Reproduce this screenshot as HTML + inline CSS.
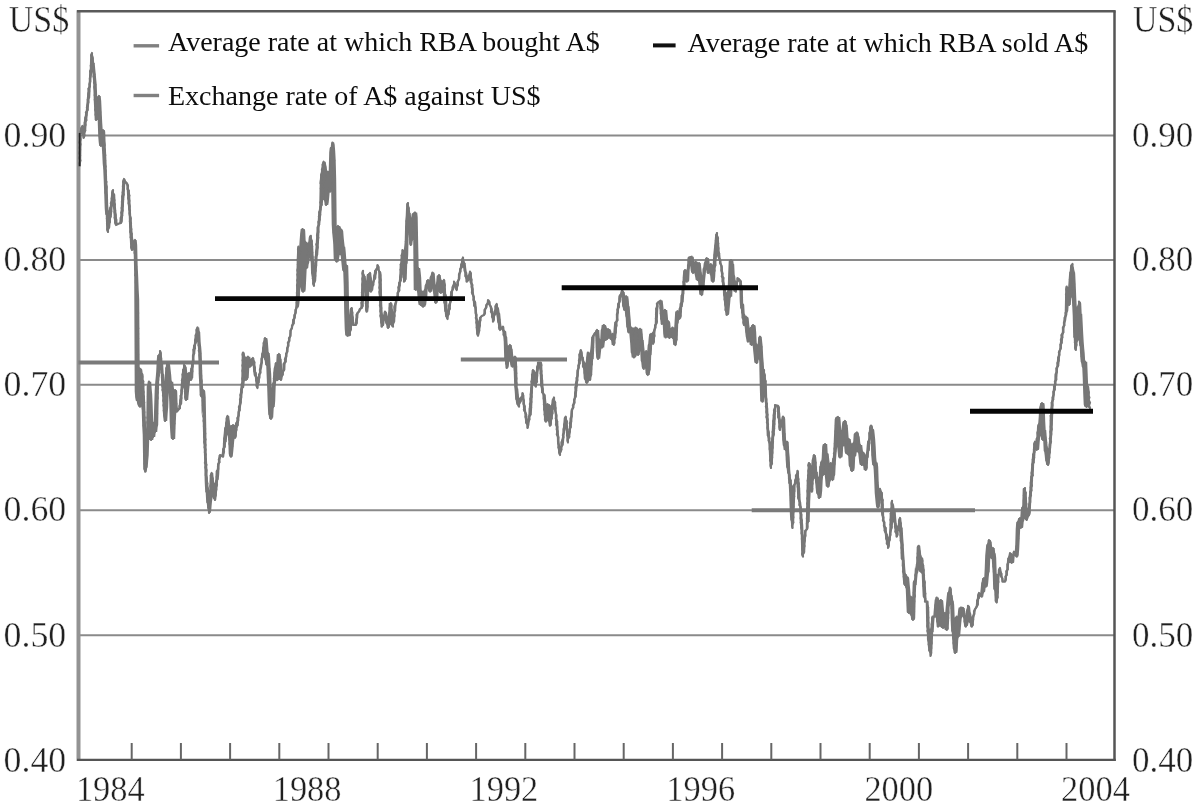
<!DOCTYPE html>
<html lang="en"><head><meta charset="utf-8"><title>Exchange rate of A$ against US$</title>
<style>
html,body{margin:0;padding:0;background:#fff;}
body{width:1200px;height:810px;overflow:hidden;font-family:"Liberation Serif",serif;}
svg{display:block;filter:blur(0.55px);font-family:"Liberation Serif",serif;}
.ax{font-size:34px;fill:#202020;stroke:#fff;stroke-width:0.4px;paint-order:fill stroke;}
.lg{font-size:28px;fill:#0c0c0c;}
</style></head><body>
<svg width="1200" height="810" viewBox="0 0 1200 810">
<rect width="1200" height="810" fill="#fff"/>

<g stroke="#8a8a8a" stroke-width="2.1">
<line x1="78.5" y1="135.5" x2="1114.5" y2="135.5"/>
<line x1="78.5" y1="260" x2="1114.5" y2="260"/>
<line x1="78.5" y1="384.7" x2="1114.5" y2="384.7"/>
<line x1="78.5" y1="510.3" x2="1114.5" y2="510.3"/>
<line x1="78.5" y1="635.3" x2="1114.5" y2="635.3"/>
</g>
<line x1="78.5" y1="10.2" x2="78.5" y2="761.0" stroke="#939393" stroke-width="4"/>
<line x1="77.0" y1="11.2" x2="1115.7" y2="11.2" stroke="#5a5a5a" stroke-width="2.4"/>
<line x1="1114.5" y1="11.2" x2="1114.5" y2="761.0" stroke="#555" stroke-width="2.5"/>
<line x1="77.0" y1="759.9" x2="1115.7" y2="759.9" stroke="#555" stroke-width="2.4"/>
<g stroke="#666" stroke-width="2">
<line x1="131.7" y1="743" x2="131.7" y2="759.5"/>
<line x1="180.9" y1="743" x2="180.9" y2="759.5"/>
<line x1="230.1" y1="743" x2="230.1" y2="759.5"/>
<line x1="279.3" y1="743" x2="279.3" y2="759.5"/>
<line x1="328.5" y1="743" x2="328.5" y2="759.5"/>
<line x1="377.7" y1="743" x2="377.7" y2="759.5"/>
<line x1="426.9" y1="743" x2="426.9" y2="759.5"/>
<line x1="476.1" y1="743" x2="476.1" y2="759.5"/>
<line x1="525.3" y1="743" x2="525.3" y2="759.5"/>
<line x1="574.5" y1="743" x2="574.5" y2="759.5"/>
<line x1="623.7" y1="743" x2="623.7" y2="759.5"/>
<line x1="672.9" y1="743" x2="672.9" y2="759.5"/>
<line x1="722.1" y1="743" x2="722.1" y2="759.5"/>
<line x1="771.3" y1="743" x2="771.3" y2="759.5"/>
<line x1="820.5" y1="743" x2="820.5" y2="759.5"/>
<line x1="869.7" y1="743" x2="869.7" y2="759.5"/>
<line x1="918.9" y1="743" x2="918.9" y2="759.5"/>
<line x1="968.1" y1="743" x2="968.1" y2="759.5"/>
<line x1="1017.3" y1="743" x2="1017.3" y2="759.5"/>
<line x1="1066.5" y1="743" x2="1066.5" y2="759.5"/>
</g>
<g stroke="#7a7a7a" stroke-width="4.0">
<line x1="78.5" y1="362.5" x2="219" y2="362.5"/>
<line x1="460.8" y1="359.6" x2="567" y2="359.6"/>
<line x1="751.7" y1="510.3" x2="975" y2="510.3"/>
</g>
<path d="M79.2,133.3 L79.7,132.1 L80.2,128.3 L80.7,127.4 L81.2,126.2 L81.7,126.0 L82.2,126.0 L82.7,126.0 L83.2,126.0 L83.7,122.6 L84.2,118.0 L84.7,116.8 L85.2,112.1 L85.7,111.3 L86.2,106.1 L86.7,99.5 L87.2,94.1 L87.7,88.3 L88.2,87.6 L88.7,82.9 L89.2,71.0 L89.7,70.0 L90.2,55.1 L90.7,53.8 L91.2,53.0 L91.7,53.0 L92.2,53.0 L92.7,53.0 L93.2,55.9 L93.7,57.9 L94.2,63.0 L94.7,63.0 L95.2,68.8 L95.7,73.5 L96.2,79.2 L96.7,84.3 L97.2,96.7 L97.7,96.0 L98.2,96.0 L98.7,96.0 L99.2,96.0 L99.7,96.0 L100.2,96.0 L100.7,96.0 L101.2,101.0 L101.7,111.8 L102.2,122.6 L102.7,130.0 L103.2,130.0 L103.7,130.0 L104.2,130.0 L104.7,130.0 L105.2,131.8 L105.7,144.9 L106.2,154.9 L106.7,166.5 L107.2,181.4 L107.7,186.8 L108.2,205.2 L108.7,211.2 L109.2,208.0 L109.7,207.1 L110.2,202.7 L110.7,198.3 L111.2,192.7 L111.7,190.0 L112.2,190.0 L112.7,190.0 L113.2,190.0 L113.7,190.0 L114.2,193.5 L114.7,194.1 L115.2,194.8 L115.7,203.8 L116.2,210.1 L116.7,215.0 L117.2,219.7 L117.7,223.6 L118.2,223.5 L118.7,223.4 L119.2,223.2 L119.7,217.8 L120.2,216.9 L120.7,207.9 L121.2,196.5 L121.7,192.0 L122.2,181.5 L122.7,179.8 L123.2,179.0 L123.7,179.0 L124.2,179.0 L124.7,179.0 L125.2,179.2 L125.7,180.5 L126.2,181.5 L126.7,182.1 L127.2,182.7 L127.7,183.1 L128.2,183.7 L128.7,185.1 L129.2,189.9 L129.7,190.5 L130.2,195.0 L130.7,205.7 L131.2,216.3 L131.7,218.0 L132.2,228.3 L132.7,233.7 L133.2,239.3 L133.7,240.4 L134.2,240.0 L134.7,240.0 L135.2,240.0 L135.7,240.0 L136.2,240.0 L136.7,240.0 L137.2,245.3 L137.7,266.2 L138.2,276.8 L138.7,289.9 L139.2,299.6 L139.7,368.0 L140.2,368.2 L140.7,368.6 L141.2,368.6 L141.7,369.2 L142.2,369.6 L142.7,373.5 L143.2,374.0 L143.7,380.5 L144.2,381.1 L144.7,392.2 L145.2,402.5 L145.7,417.6 L146.2,429.5 L146.7,386.3 L147.2,385.6 L147.7,381.7 L148.2,381.7 L148.7,381.7 L149.2,381.7 L149.7,381.7 L150.2,381.7 L150.7,381.7 L151.2,381.7 L151.7,389.3 L152.2,394.6 L152.7,405.7 L153.2,421.9 L153.7,421.5 L154.2,405.3 L154.7,390.0 L155.2,382.4 L155.7,377.5 L156.2,371.4 L156.7,360.7 L157.2,355.0 L157.7,355.3 L158.2,354.4 L158.7,354.4 L159.2,351.0 L159.7,351.0 L160.2,351.0 L160.7,351.0 L161.2,351.3 L161.7,352.8 L162.2,358.6 L162.7,364.1 L163.2,364.1 L163.7,373.8 L164.2,374.6 L164.7,381.5 L165.2,367.8 L165.7,366.9 L166.2,363.0 L166.7,363.0 L167.2,363.0 L167.7,363.0 L168.2,363.0 L168.7,363.0 L169.2,363.0 L169.7,363.0 L170.2,365.7 L170.7,370.6 L171.2,375.1 L171.7,381.7 L172.2,381.7 L172.7,381.7 L173.2,381.7 L173.7,386.6 L174.2,390.0 L174.7,390.0 L175.2,390.0 L175.7,390.0 L176.2,390.0 L176.7,390.0 L177.2,391.5 L177.7,408.1 L178.2,408.8 L178.7,405.5 L179.2,400.7 L179.7,395.6 L180.2,394.4 L180.7,385.0 L181.2,379.8 L181.7,374.3 L182.2,369.8 L182.7,369.2 L183.2,365.0 L183.7,365.0 L184.2,365.0 L184.7,365.0 L185.2,365.0 L185.7,365.0 L186.2,366.8 L186.7,366.8 L187.2,372.5 L187.7,373.0 L188.2,373.0 L188.7,373.0 L189.2,373.0 L189.7,373.0 L190.2,368.2 L190.7,368.2 L191.2,363.2 L191.7,362.0 L192.2,355.0 L192.7,349.3 L193.2,344.8 L193.7,345.0 L194.2,340.1 L194.7,335.1 L195.2,334.4 L195.7,329.5 L196.2,328.0 L196.7,327.5 L197.2,327.5 L197.7,327.5 L198.2,327.5 L198.7,327.5 L199.2,327.5 L199.7,331.5 L200.2,332.1 L200.7,342.7 L201.2,347.0 L201.7,353.1 L202.2,370.9 L202.7,381.2 L203.2,390.0 L203.7,390.0 L204.2,390.3 L204.7,390.0 L205.2,391.3 L205.7,397.3 L206.2,423.7 L206.7,454.2 L207.2,464.4 L207.7,477.5 L208.2,482.9 L208.7,488.1 L209.2,491.0 L209.7,475.4 L210.2,474.2 L210.7,473.0 L211.2,473.0 L211.7,473.0 L212.2,473.0 L212.7,473.0 L213.2,473.0 L213.7,478.4 L214.2,482.8 L214.7,483.2 L215.2,481.0 L215.7,471.0 L216.2,470.0 L216.7,470.0 L217.2,464.1 L217.7,463.3 L218.2,458.8 L218.7,455.0 L219.2,455.0 L219.7,455.0 L220.2,455.0 L220.7,455.0 L221.2,455.1 L221.7,454.6 L222.2,449.1 L222.7,448.2 L223.2,437.8 L223.7,433.5 L224.2,427.5 L224.7,427.5 L225.2,423.0 L225.7,418.2 L226.2,416.7 L226.7,416.0 L227.2,416.0 L227.7,416.0 L228.2,416.0 L228.7,416.0 L229.2,416.0 L229.7,420.5 L230.2,425.3 L230.7,425.3 L231.2,425.0 L231.7,425.0 L232.2,425.0 L232.7,425.0 L233.2,425.0 L233.7,425.0 L234.2,425.0 L234.7,425.0 L235.2,422.6 L235.7,422.6 L236.2,421.7 L236.7,417.5 L237.2,416.4 L237.7,411.8 L238.2,406.3 L238.7,405.4 L239.2,399.3 L239.7,394.4 L240.2,389.6 L240.7,384.2 L241.2,383.1 L241.7,353.8 L242.2,352.5 L242.7,352.5 L243.2,352.5 L243.7,352.5 L244.2,352.5 L244.7,352.5 L245.2,356.6 L245.7,356.6 L246.2,356.7 L246.7,356.7 L247.2,356.7 L247.7,356.7 L248.2,356.7 L248.7,356.7 L249.2,356.7 L249.7,356.7 L250.2,356.7 L250.7,359.0 L251.2,358.4 L251.7,358.0 L252.2,358.0 L252.7,358.0 L253.2,358.0 L253.7,358.0 L254.2,358.0 L254.7,361.3 L255.2,361.9 L255.7,367.1 L256.2,372.2 L256.7,372.9 L257.2,376.6 L257.7,377.5 L258.2,374.3 L258.7,373.7 L259.2,369.3 L259.7,364.9 L260.2,363.7 L260.7,358.4 L261.2,353.9 L261.7,353.0 L262.2,348.1 L262.7,342.8 L263.2,341.9 L263.7,338.0 L264.2,338.0 L264.7,338.0 L265.2,338.0 L265.7,338.0 L266.2,338.0 L266.7,338.0 L267.2,338.0 L267.7,340.1 L268.2,346.2 L268.7,353.0 L269.2,353.0 L269.7,353.0 L270.2,358.1 L270.7,368.0 L271.2,374.1 L271.7,387.9 L272.2,382.7 L272.7,382.7 L273.2,372.8 L273.7,368.0 L274.2,366.7 L274.7,363.0 L275.2,363.0 L275.7,363.0 L276.2,363.0 L276.7,354.5 L277.2,354.0 L277.7,354.0 L278.2,354.0 L278.7,354.0 L279.2,354.0 L279.7,354.0 L280.2,354.0 L280.7,354.0 L281.2,358.4 L281.7,359.6 L282.2,371.1 L282.7,363.8 L283.2,363.3 L283.7,362.7 L284.2,358.7 L284.7,357.5 L285.2,353.6 L285.7,352.7 L286.2,348.1 L286.7,347.1 L287.2,342.3 L287.7,341.7 L288.2,337.9 L288.7,337.0 L289.2,336.3 L289.7,330.2 L290.2,329.3 L290.7,328.4 L291.2,325.5 L291.7,324.6 L292.2,320.0 L292.7,319.2 L293.2,318.3 L293.7,314.6 L294.2,313.4 L294.7,309.6 L295.2,308.1 L295.7,302.1 L296.2,284.6 L296.7,259.5 L297.2,248.0 L297.7,246.7 L298.2,246.7 L298.7,246.7 L299.2,246.7 L299.7,239.3 L300.2,232.9 L300.7,229.0 L301.2,229.0 L301.7,229.0 L302.2,229.0 L302.7,229.0 L303.2,229.0 L303.7,229.0 L304.2,229.0 L304.7,229.0 L305.2,230.8 L305.7,241.7 L306.2,241.7 L306.7,241.7 L307.2,241.7 L307.7,243.1 L308.2,242.4 L308.7,237.8 L309.2,235.8 L309.7,235.8 L310.2,235.8 L310.7,235.8 L311.2,235.8 L311.7,235.8 L312.2,239.6 L312.7,240.8 L313.2,246.5 L313.7,257.0 L314.2,265.2 L314.7,256.9 L315.2,251.3 L315.7,243.8 L316.2,234.6 L316.7,227.0 L317.2,226.1 L317.7,221.2 L318.2,212.1 L318.7,210.9 L319.2,206.9 L319.7,181.8 L320.2,174.7 L320.7,173.3 L321.2,169.0 L321.7,164.4 L322.2,162.9 L322.7,161.7 L323.2,161.7 L323.7,161.7 L324.2,161.7 L324.7,161.7 L325.2,161.7 L325.7,161.7 L326.2,165.0 L326.7,166.8 L327.2,171.7 L327.7,171.7 L328.2,171.7 L328.7,171.7 L329.2,152.3 L329.7,148.0 L330.2,147.0 L330.7,147.0 L331.2,142.5 L331.7,142.5 L332.2,142.5 L332.7,142.5 L333.2,142.5 L333.7,142.5 L334.2,142.5 L334.7,144.9 L335.2,151.0 L335.7,160.3 L336.2,179.8 L336.7,226.0 L337.2,226.0 L337.7,226.0 L338.2,226.0 L338.7,226.0 L339.2,226.0 L339.7,226.0 L340.2,226.0 L340.7,227.2 L341.2,228.3 L341.7,228.9 L342.2,229.3 L342.7,229.8 L343.2,231.2 L343.7,237.8 L344.2,242.6 L344.7,246.7 L345.2,246.7 L345.7,251.4 L346.2,257.9 L346.7,265.0 L347.2,265.0 L347.7,265.0 L348.2,265.8 L348.7,282.6 L349.2,315.3 L349.7,309.5 L350.2,308.0 L350.7,308.0 L351.2,308.0 L351.7,308.0 L352.2,308.0 L352.7,308.0 L353.2,311.8 L353.7,317.1 L354.2,322.3 L354.7,325.0 L355.2,320.2 L355.7,314.5 L356.2,313.5 L356.7,312.8 L357.2,312.3 L357.7,311.7 L358.2,310.9 L358.7,309.4 L359.2,308.8 L359.7,308.5 L360.2,308.3 L360.7,302.3 L361.2,284.9 L361.7,271.8 L362.2,270.8 L362.7,270.8 L363.2,270.8 L363.7,270.8 L364.2,274.1 L364.7,275.2 L365.2,276.1 L365.7,276.1 L366.2,281.0 L366.7,274.8 L367.2,274.1 L367.7,274.1 L368.2,273.5 L368.7,273.0 L369.2,273.0 L369.7,273.0 L370.2,273.0 L370.7,273.0 L371.2,273.0 L371.7,278.1 L372.2,281.9 L372.7,280.7 L373.2,275.2 L373.7,274.0 L374.2,270.1 L374.7,270.1 L375.2,269.4 L375.7,268.8 L376.2,267.9 L376.7,265.0 L377.2,265.0 L377.7,265.0 L378.2,265.0 L378.7,265.2 L379.2,266.2 L379.7,270.3 L380.2,271.2 L380.7,271.2 L381.2,272.1 L381.7,275.0 L382.2,302.7 L382.7,313.6 L383.2,315.6 L383.7,311.7 L384.2,311.7 L384.7,311.7 L385.2,311.7 L385.7,311.7 L386.2,311.7 L386.7,311.7 L387.2,313.2 L387.7,316.5 L388.2,312.0 L388.7,303.0 L389.2,303.0 L389.7,303.0 L390.2,303.0 L390.7,303.0 L391.2,303.0 L391.7,303.0 L392.2,303.0 L392.7,309.5 L393.2,312.3 L393.7,305.8 L394.2,304.3 L394.7,303.0 L395.2,299.5 L395.7,298.6 L396.2,297.9 L396.7,292.8 L397.2,291.9 L397.7,286.9 L398.2,282.8 L398.7,282.0 L399.2,276.9 L399.7,264.4 L400.2,263.8 L400.7,255.3 L401.2,254.0 L401.7,250.0 L402.2,250.0 L402.7,250.0 L403.2,250.0 L403.7,250.0 L404.2,246.9 L404.7,241.0 L405.2,221.0 L405.7,215.7 L406.2,203.8 L406.7,203.0 L407.2,203.0 L407.7,203.0 L408.2,203.0 L408.7,203.0 L409.2,206.6 L409.7,208.0 L410.2,212.9 L410.7,212.9 L411.2,218.1 L411.7,214.0 L412.2,213.3 L412.7,213.3 L413.2,212.7 L413.7,212.5 L414.2,212.5 L414.7,212.5 L415.2,212.5 L415.7,212.5 L416.2,212.5 L416.7,212.5 L417.2,212.5 L417.7,217.2 L418.2,244.5 L418.7,268.0 L419.2,268.0 L419.7,268.0 L420.2,268.0 L420.7,272.5 L421.2,277.7 L421.7,289.6 L422.2,291.7 L422.7,291.7 L423.2,291.7 L423.7,289.9 L424.2,288.9 L424.7,285.2 L425.2,284.2 L425.7,283.2 L426.2,280.0 L426.7,280.0 L427.2,280.0 L427.7,280.0 L428.2,280.0 L428.7,280.0 L429.2,280.0 L429.7,276.9 L430.2,276.2 L430.7,275.3 L431.2,272.5 L431.7,272.5 L432.2,272.5 L432.7,272.5 L433.2,272.5 L433.7,272.5 L434.2,272.5 L434.7,273.8 L435.2,279.4 L435.7,284.9 L436.2,282.3 L436.7,275.7 L437.2,275.7 L437.7,275.0 L438.2,275.0 L438.7,275.0 L439.2,275.0 L439.7,275.0 L440.2,275.0 L440.7,275.0 L441.2,279.0 L441.7,280.0 L442.2,280.5 L442.7,280.0 L443.2,280.0 L443.7,280.0 L444.2,280.0 L444.7,280.0 L445.2,280.0 L445.7,284.4 L446.2,294.4 L446.7,295.1 L447.2,300.4 L447.7,310.3 L448.2,305.2 L448.7,303.7 L449.2,302.3 L449.7,297.2 L450.2,292.0 L450.7,291.3 L451.2,290.4 L451.7,287.1 L452.2,285.9 L452.7,285.0 L453.2,281.7 L453.7,281.7 L454.2,281.7 L454.7,281.7 L455.2,281.9 L455.7,282.9 L456.2,284.2 L456.7,281.4 L457.2,280.5 L457.7,279.6 L458.2,273.9 L458.7,273.0 L459.2,268.9 L459.7,268.3 L460.2,264.6 L460.7,263.6 L461.2,259.8 L461.7,258.3 L462.2,257.5 L462.7,257.5 L463.2,257.5 L463.7,257.5 L464.2,261.0 L464.7,262.0 L465.2,263.1 L465.7,262.9 L466.2,267.9 L466.7,271.5 L467.2,272.6 L467.7,275.7 L468.2,275.1 L468.7,273.4 L469.2,271.7 L469.7,271.7 L470.2,271.7 L470.7,271.7 L471.2,271.9 L471.7,273.1 L472.2,278.7 L472.7,283.6 L473.2,284.5 L473.7,289.4 L474.2,295.2 L474.7,296.4 L475.2,300.9 L475.7,301.5 L476.2,302.2 L476.7,307.5 L477.2,313.8 L477.7,319.0 L478.2,319.9 L478.7,321.6 L479.2,317.8 L479.7,317.2 L480.2,316.6 L480.7,316.1 L481.2,315.8 L481.7,315.5 L482.2,315.3 L482.7,315.1 L483.2,314.5 L483.7,309.6 L484.2,308.9 L484.7,308.3 L485.2,306.1 L485.7,304.5 L486.2,303.8 L486.7,303.2 L487.2,300.0 L487.7,300.0 L488.2,300.0 L488.7,300.0 L489.2,300.2 L489.7,300.9 L490.2,301.6 L490.7,304.7 L491.2,305.6 L491.7,306.3 L492.2,307.4 L492.7,309.1 L493.2,313.3 L493.7,311.3 L494.2,310.4 L494.7,305.8 L495.2,304.9 L495.7,304.0 L496.2,304.0 L496.7,304.0 L497.2,304.0 L497.7,304.0 L498.2,307.4 L498.7,307.2 L499.2,309.2 L499.7,313.0 L500.2,313.6 L500.7,319.1 L501.2,324.3 L501.7,326.9 L502.2,326.7 L502.7,326.7 L503.2,326.7 L503.7,326.7 L504.2,326.7 L504.7,330.8 L505.2,331.1 L505.7,331.1 L506.2,331.6 L506.7,336.4 L507.2,337.0 L507.7,345.7 L508.2,345.4 L508.7,345.0 L509.2,345.0 L509.7,345.0 L510.2,345.0 L510.7,345.0 L511.2,345.0 L511.7,345.0 L512.2,348.4 L512.7,349.6 L513.2,355.6 L513.7,356.7 L514.2,356.7 L514.7,356.7 L515.2,356.7 L515.7,356.7 L516.2,356.7 L516.7,356.7 L517.2,366.8 L517.7,388.6 L518.2,388.6 L518.7,393.7 L519.2,397.9 L519.7,397.9 L520.2,397.4 L520.7,397.1 L521.2,396.6 L521.7,393.0 L522.2,393.0 L522.7,393.0 L523.2,393.0 L523.7,393.3 L524.2,395.1 L524.7,400.1 L525.2,404.9 L525.7,406.2 L526.2,412.0 L526.7,413.2 L527.2,414.5 L527.7,419.5 L528.2,416.2 L528.7,408.7 L529.2,403.7 L529.7,394.3 L530.2,388.6 L530.7,381.0 L531.2,374.8 L531.7,370.0 L532.2,370.0 L532.7,370.0 L533.2,370.0 L533.7,370.0 L534.2,370.2 L534.7,370.9 L535.2,371.7 L535.7,372.3 L536.2,367.1 L536.7,365.8 L537.2,362.5 L537.7,362.5 L538.2,362.5 L538.7,362.5 L539.2,362.5 L539.7,362.5 L540.2,362.5 L540.7,362.5 L541.2,362.5 L541.7,362.5 L542.2,363.8 L542.7,375.3 L543.2,380.8 L543.7,388.7 L544.2,393.4 L544.7,394.0 L545.2,394.6 L545.7,394.6 L546.2,400.8 L546.7,404.0 L547.2,404.0 L547.7,404.0 L548.2,404.0 L548.7,404.0 L549.2,404.0 L549.7,404.0 L550.2,405.2 L550.7,405.2 L551.2,404.3 L551.7,399.6 L552.2,399.6 L552.7,398.2 L553.2,397.5 L553.7,397.5 L554.2,397.5 L554.7,397.5 L555.2,400.9 L555.7,401.6 L556.2,402.3 L556.7,412.0 L557.2,414.0 L557.7,420.2 L558.2,421.4 L558.7,431.1 L559.2,436.6 L559.7,444.2 L560.2,446.7 L560.7,441.8 L561.2,440.5 L561.7,439.2 L562.2,434.3 L562.7,429.0 L563.2,424.5 L563.7,418.2 L564.2,416.7 L564.7,416.7 L565.2,416.7 L565.7,416.7 L566.2,416.7 L566.7,416.7 L567.2,420.3 L567.7,420.9 L568.2,431.2 L568.7,428.9 L569.2,422.7 L569.7,418.1 L570.2,416.9 L570.7,410.9 L571.2,409.3 L571.7,408.4 L572.2,404.9 L572.7,404.0 L573.2,399.4 L573.7,398.5 L574.2,392.9 L574.7,386.9 L575.2,382.8 L575.7,377.7 L576.2,376.5 L576.7,370.1 L577.2,368.7 L577.7,364.9 L578.2,359.7 L578.7,354.0 L579.2,352.8 L579.7,350.0 L580.2,350.0 L580.7,350.0 L581.2,350.0 L581.7,350.0 L582.2,351.1 L582.7,352.9 L583.2,357.1 L583.7,356.9 L584.2,360.4 L584.7,361.5 L585.2,362.7 L585.7,362.2 L586.2,357.0 L586.7,352.5 L587.2,352.5 L587.7,352.5 L588.2,352.5 L588.7,352.5 L589.2,352.5 L589.7,352.5 L590.2,350.3 L590.7,344.7 L591.2,336.7 L591.7,337.0 L592.2,336.0 L592.7,335.0 L593.2,334.4 L593.7,333.1 L594.2,332.3 L594.7,332.3 L595.2,331.4 L595.7,330.0 L596.2,330.0 L596.7,330.0 L597.2,330.0 L597.7,330.0 L598.2,330.0 L598.7,330.0 L599.2,330.0 L599.7,337.7 L600.2,339.7 L600.7,330.0 L601.2,329.0 L601.7,325.0 L602.2,325.0 L602.7,325.0 L603.2,325.0 L603.7,325.0 L604.2,325.0 L604.7,325.0 L605.2,325.0 L605.7,325.0 L606.2,325.7 L606.7,327.2 L607.2,329.0 L607.7,329.0 L608.2,329.0 L608.7,329.0 L609.2,329.0 L609.7,329.0 L610.2,329.0 L610.7,330.0 L611.2,331.0 L611.7,333.8 L612.2,333.8 L612.7,333.8 L613.2,333.8 L613.7,327.7 L614.2,322.4 L614.7,321.8 L615.2,321.8 L615.7,321.2 L616.2,313.5 L616.7,309.1 L617.2,303.9 L617.7,303.1 L618.2,302.2 L618.7,295.9 L619.2,295.3 L619.7,294.5 L620.2,293.8 L620.7,291.6 L621.2,290.6 L621.7,290.6 L622.2,290.6 L622.7,290.6 L623.2,290.6 L623.7,290.6 L624.2,291.9 L624.7,291.9 L625.2,296.2 L625.7,296.2 L626.2,296.2 L626.7,296.2 L627.2,296.2 L627.7,296.2 L628.2,296.2 L628.7,299.6 L629.2,306.3 L629.7,306.3 L630.2,314.2 L630.7,319.6 L631.2,327.5 L631.7,327.5 L632.2,327.5 L632.7,327.5 L633.2,327.5 L633.7,327.5 L634.2,327.5 L634.7,327.5 L635.2,327.5 L635.7,327.5 L636.2,327.5 L636.7,327.5 L637.2,327.5 L637.7,327.5 L638.2,328.7 L638.7,328.8 L639.2,328.8 L639.7,328.8 L640.2,328.8 L640.7,328.8 L641.2,328.8 L641.7,328.8 L642.2,328.8 L642.7,333.9 L643.2,339.9 L643.7,339.9 L644.2,346.6 L644.7,351.2 L645.2,351.2 L645.7,351.2 L646.2,351.2 L646.7,351.2 L647.2,351.2 L647.7,345.1 L648.2,343.8 L648.7,337.7 L649.2,333.8 L649.7,333.8 L650.2,333.8 L650.7,333.8 L651.2,333.8 L651.7,333.8 L652.2,332.0 L652.7,332.0 L653.2,330.5 L653.7,329.0 L654.2,325.1 L654.7,324.4 L655.2,308.7 L655.7,307.7 L656.2,303.3 L656.7,302.7 L657.2,302.3 L657.7,301.8 L658.2,301.5 L658.7,301.2 L659.2,300.9 L659.7,300.6 L660.2,300.6 L660.7,300.6 L661.2,300.6 L661.7,300.6 L662.2,300.6 L662.7,300.6 L663.2,305.2 L663.7,310.0 L664.2,310.0 L664.7,310.0 L665.2,310.0 L665.7,310.0 L666.2,310.0 L666.7,310.0 L667.2,310.0 L667.7,314.9 L668.2,321.2 L668.7,321.2 L669.2,321.2 L669.7,321.2 L670.2,322.7 L670.7,328.3 L671.2,327.5 L671.7,327.5 L672.2,327.5 L672.7,327.5 L673.2,327.5 L673.7,327.5 L674.2,327.5 L674.7,319.4 L675.2,311.8 L675.7,311.2 L676.2,311.2 L676.7,311.2 L677.2,311.2 L677.7,311.2 L678.2,311.2 L678.7,308.4 L679.2,307.4 L679.7,303.2 L680.2,303.2 L680.7,295.2 L681.2,294.4 L681.7,288.7 L682.2,289.0 L682.7,277.0 L683.2,271.0 L683.7,270.0 L684.2,270.0 L684.7,270.0 L685.2,270.0 L685.7,270.0 L686.2,270.7 L686.7,269.5 L687.2,265.2 L687.7,257.4 L688.2,257.3 L688.7,257.0 L689.2,256.8 L689.7,256.8 L690.2,256.7 L690.7,256.7 L691.2,256.7 L691.7,256.7 L692.2,256.7 L692.7,256.7 L693.2,256.7 L693.7,256.7 L694.2,261.1 L694.7,261.7 L695.2,261.7 L695.7,261.7 L696.2,261.7 L696.7,261.7 L697.2,261.7 L697.7,261.7 L698.2,263.0 L698.7,263.0 L699.2,263.0 L699.7,263.0 L700.2,263.0 L700.7,263.0 L701.2,267.4 L701.7,272.2 L702.2,275.9 L702.7,268.6 L703.2,267.7 L703.7,263.4 L704.2,262.3 L704.7,261.1 L705.2,258.0 L705.7,258.0 L706.2,258.0 L706.7,258.0 L707.2,258.0 L707.7,258.0 L708.2,258.0 L708.7,258.0 L709.2,259.0 L709.7,264.0 L710.2,264.0 L710.7,264.0 L711.2,264.0 L711.7,264.0 L712.2,264.0 L712.7,265.0 L713.2,254.9 L713.7,250.2 L714.2,245.2 L714.7,240.0 L715.2,234.0 L715.7,234.0 L716.2,233.0 L716.7,233.0 L717.2,233.0 L717.7,233.0 L718.2,236.2 L718.7,237.4 L719.2,243.2 L719.7,252.3 L720.2,253.2 L720.7,259.1 L721.2,260.0 L721.7,264.0 L722.2,265.0 L722.7,266.4 L723.2,272.4 L723.7,277.2 L724.2,277.7 L724.7,283.9 L725.2,288.0 L725.7,288.0 L726.2,292.5 L726.7,291.7 L727.2,291.7 L727.7,288.3 L728.2,272.8 L728.7,261.3 L729.2,260.0 L729.7,260.0 L730.2,260.0 L730.7,260.0 L731.2,260.0 L731.7,260.0 L732.2,260.0 L732.7,260.0 L733.2,260.0 L733.7,263.9 L734.2,264.3 L734.7,275.0 L735.2,276.3 L735.7,281.1 L736.2,281.8 L736.7,278.0 L737.2,278.0 L737.7,278.0 L738.2,278.0 L738.7,278.2 L739.2,278.5 L739.7,278.5 L740.2,278.9 L740.7,280.0 L741.2,280.6 L741.7,280.6 L742.2,285.8 L742.7,286.6 L743.2,303.7 L743.7,303.7 L744.2,304.8 L744.7,313.7 L745.2,314.6 L745.7,316.7 L746.2,316.7 L746.7,316.7 L747.2,316.7 L747.7,316.7 L748.2,317.2 L748.7,318.6 L749.2,324.3 L749.7,328.0 L750.2,328.0 L750.7,328.0 L751.2,325.0 L751.7,325.0 L752.2,325.0 L752.7,325.0 L753.2,325.0 L753.7,325.0 L754.2,325.0 L754.7,325.0 L755.2,325.0 L755.7,326.5 L756.2,332.6 L756.7,342.7 L757.2,344.2 L757.7,344.2 L758.2,337.5 L758.7,336.7 L759.2,336.7 L759.7,336.7 L760.2,336.7 L760.7,336.7 L761.2,336.7 L761.7,336.7 L762.2,341.9 L762.7,346.4 L763.2,356.7 L763.7,362.8 L764.2,370.0 L764.7,370.0 L765.2,373.3 L765.7,375.0 L766.2,380.5 L766.7,380.3 L767.2,397.7 L767.7,403.2 L768.2,408.7 L768.7,419.1 L769.2,430.3 L769.7,432.1 L770.2,437.7 L770.7,442.4 L771.2,439.0 L771.7,431.4 L772.2,421.2 L772.7,415.0 L773.2,410.0 L773.7,408.8 L774.2,405.0 L774.7,405.0 L775.2,405.0 L775.7,405.0 L776.2,405.1 L776.7,405.2 L777.2,405.3 L777.7,405.5 L778.2,405.6 L778.7,405.5 L779.2,405.7 L779.7,407.2 L780.2,413.6 L780.7,419.6 L781.2,420.1 L781.7,416.7 L782.2,416.7 L782.7,416.7 L783.2,416.7 L783.7,416.7 L784.2,416.7 L784.7,416.7 L785.2,419.0 L785.7,433.1 L786.2,441.5 L786.7,441.7 L787.2,441.7 L787.7,441.7 L788.2,441.7 L788.7,441.7 L789.2,452.2 L789.7,457.4 L790.2,469.5 L790.7,475.2 L791.2,479.6 L791.7,480.2 L792.2,485.8 L792.7,485.6 L793.2,484.9 L793.7,484.3 L794.2,480.4 L794.7,479.5 L795.2,475.3 L795.7,474.4 L796.2,473.5 L796.7,470.8 L797.2,470.8 L797.7,470.8 L798.2,470.8 L798.7,471.0 L799.2,478.4 L799.7,483.1 L800.2,488.8 L800.7,501.2 L801.2,502.4 L801.7,507.0 L802.2,514.0 L802.7,520.1 L803.2,525.0 L803.7,537.1 L804.2,530.9 L804.7,530.4 L805.2,529.9 L805.7,529.3 L806.2,503.6 L806.7,480.8 L807.2,475.2 L807.7,463.8 L808.2,463.0 L808.7,463.0 L809.2,463.0 L809.7,463.0 L810.2,463.0 L810.7,463.0 L811.2,465.7 L811.7,459.7 L812.2,458.2 L812.7,455.0 L813.2,455.0 L813.7,455.0 L814.2,455.0 L814.7,455.0 L815.2,455.0 L815.7,455.0 L816.2,457.5 L816.7,462.7 L817.2,471.9 L817.7,471.9 L818.2,476.7 L818.7,476.6 L819.2,466.7 L819.7,465.7 L820.2,461.7 L820.7,461.7 L821.2,461.7 L821.7,457.4 L822.2,446.6 L822.7,444.5 L823.2,444.0 L823.7,444.0 L824.2,444.0 L824.7,444.0 L825.2,444.0 L825.7,444.0 L826.2,444.0 L826.7,444.0 L827.2,444.0 L827.7,453.3 L828.2,453.3 L828.7,454.1 L829.2,459.3 L829.7,463.0 L830.2,463.0 L830.7,463.0 L831.2,463.0 L831.7,463.0 L832.2,458.3 L832.7,458.3 L833.2,452.8 L833.7,442.3 L834.2,430.8 L834.7,419.3 L835.2,417.9 L835.7,417.6 L836.2,417.1 L836.7,417.0 L837.2,417.0 L837.7,417.0 L838.2,417.0 L838.7,417.0 L839.2,417.0 L839.7,417.0 L840.2,417.0 L840.7,421.6 L841.2,431.0 L841.7,427.3 L842.2,422.7 L842.7,421.5 L843.2,421.0 L843.7,421.0 L844.2,421.0 L844.7,421.0 L845.2,421.0 L845.7,421.0 L846.2,421.0 L846.7,421.0 L847.2,424.8 L847.7,424.8 L848.2,431.8 L848.7,439.0 L849.2,439.0 L849.7,439.0 L850.2,439.0 L850.7,439.0 L851.2,442.6 L851.7,443.3 L852.2,444.0 L852.7,442.4 L853.2,441.5 L853.7,434.1 L854.2,433.4 L854.7,432.7 L855.2,432.5 L855.7,432.5 L856.2,432.5 L856.7,432.5 L857.2,432.5 L857.7,432.5 L858.2,432.5 L858.7,432.5 L859.2,436.0 L859.7,436.7 L860.2,442.2 L860.7,445.0 L861.2,445.0 L861.7,445.0 L862.2,445.0 L862.7,449.4 L863.2,452.5 L863.7,452.5 L864.2,452.5 L864.7,452.5 L865.2,454.8 L865.7,453.8 L866.2,451.8 L866.7,445.4 L867.2,440.8 L867.7,441.0 L868.2,439.3 L868.7,432.5 L869.2,427.8 L869.7,425.6 L870.2,425.6 L870.7,425.6 L871.2,425.6 L871.7,425.6 L872.2,425.6 L872.7,425.6 L873.2,429.0 L873.7,429.0 L874.2,429.9 L874.7,434.5 L875.2,439.4 L875.7,446.9 L876.2,457.2 L876.7,462.5 L877.2,462.5 L877.7,462.5 L878.2,466.9 L878.7,481.8 L879.2,488.8 L879.7,488.8 L880.2,488.8 L880.7,488.8 L881.2,489.3 L881.7,491.3 L882.2,492.1 L882.7,492.8 L883.2,498.8 L883.7,499.7 L884.2,516.6 L884.7,521.4 L885.2,522.0 L885.7,526.7 L886.2,527.3 L886.7,528.0 L887.2,533.4 L887.7,534.5 L888.2,537.8 L888.7,536.6 L889.2,532.3 L889.7,513.6 L890.2,512.8 L890.7,502.1 L891.2,500.8 L891.7,500.8 L892.2,500.8 L892.7,500.8 L893.2,503.4 L893.7,504.6 L894.2,505.8 L894.7,510.5 L895.2,510.9 L895.7,510.9 L896.2,518.3 L896.7,523.7 L897.2,526.5 L897.7,525.4 L898.2,520.3 L898.7,518.8 L899.2,518.0 L899.7,518.0 L900.2,518.0 L900.7,518.0 L901.2,518.0 L901.7,523.0 L902.2,527.8 L902.7,527.8 L903.2,538.0 L903.7,544.0 L904.2,554.3 L904.7,560.2 L905.2,567.8 L905.7,573.2 L906.2,574.1 L906.7,573.9 L907.2,576.7 L907.7,576.7 L908.2,576.7 L908.7,576.7 L909.2,578.6 L909.7,584.6 L910.2,589.5 L910.7,596.7 L911.2,596.7 L911.7,596.7 L912.2,596.7 L912.7,582.6 L913.2,580.8 L913.7,580.8 L914.2,579.0 L914.7,569.9 L915.2,564.9 L915.7,569.0 L916.2,563.7 L916.7,547.1 L917.2,545.8 L917.7,545.8 L918.2,545.8 L918.7,545.8 L919.2,545.8 L919.7,545.8 L920.2,545.8 L920.7,550.3 L921.2,554.8 L921.7,556.0 L922.2,558.0 L922.7,558.0 L923.2,558.0 L923.7,564.5 L924.2,565.3 L924.7,570.3 L925.2,580.3 L925.7,581.9 L926.2,593.0 L926.7,601.7 L927.2,601.7 L927.7,601.7 L928.2,601.7 L928.7,605.5 L929.2,607.2 L929.7,628.9 L930.2,629.4 L930.7,624.1 L931.2,617.7 L931.7,616.7 L932.2,616.7 L932.7,616.7 L933.2,616.7 L933.7,610.7 L934.2,604.8 L934.7,599.4 L935.2,599.6 L935.7,597.5 L936.2,597.5 L936.7,597.5 L937.2,597.5 L937.7,597.5 L938.2,597.5 L938.7,597.5 L939.2,600.0 L939.7,600.0 L940.2,600.0 L940.7,600.0 L941.2,600.0 L941.7,600.0 L942.2,600.0 L942.7,600.0 L943.2,601.0 L943.7,606.8 L944.2,611.9 L944.7,613.0 L945.2,613.0 L945.7,607.3 L946.2,601.9 L946.7,596.7 L947.2,592.3 L947.7,592.3 L948.2,591.4 L948.7,587.5 L949.2,587.5 L949.7,587.5 L950.2,587.5 L950.7,587.5 L951.2,587.5 L951.7,589.3 L952.2,595.2 L952.7,595.2 L953.2,600.7 L953.7,600.4 L954.2,605.0 L954.7,617.8 L955.2,616.7 L955.7,616.7 L956.2,616.7 L956.7,616.7 L957.2,616.7 L957.7,614.8 L958.2,609.6 L958.7,607.5 L959.2,607.5 L959.7,607.5 L960.2,607.5 L960.7,607.5 L961.2,607.5 L961.7,607.5 L962.2,607.5 L962.7,607.7 L963.2,607.8 L963.7,607.8 L964.2,607.9 L964.7,608.0 L965.2,611.9 L965.7,615.3 L966.2,610.3 L966.7,608.8 L967.2,605.8 L967.7,605.8 L968.2,605.8 L968.7,605.8 L969.2,605.8 L969.7,605.8 L970.2,607.6 L970.7,613.0 L971.2,613.9 L971.7,617.0 L972.2,616.0 L972.7,615.1 L973.2,611.0 L973.7,609.8 L974.2,608.9 L974.7,608.2 L975.2,607.3 L975.7,606.5 L976.2,600.6 L976.7,599.4 L977.2,595.4 L977.7,593.7 L978.2,593.0 L978.7,593.0 L979.2,593.0 L979.7,593.0 L980.2,593.0 L980.7,588.5 L981.2,583.0 L981.7,581.6 L982.2,578.0 L982.7,578.0 L983.2,578.0 L983.7,578.0 L984.2,578.0 L984.7,568.8 L985.2,555.6 L985.7,550.3 L986.2,544.4 L986.7,544.4 L987.2,543.8 L987.7,540.0 L988.2,540.0 L988.7,540.0 L989.2,540.0 L989.7,540.0 L990.2,540.0 L990.7,540.0 L991.2,541.2 L991.7,542.3 L992.2,547.8 L992.7,547.8 L993.2,548.0 L993.7,548.0 L994.2,548.0 L994.7,548.0 L995.2,553.2 L995.7,553.2 L996.2,558.0 L996.7,573.8 L997.2,573.9 L997.7,573.9 L998.2,569.6 L998.7,568.5 L999.2,568.0 L999.7,568.0 L1000.2,568.0 L1000.7,568.0 L1001.2,569.0 L1001.7,572.3 L1002.2,573.2 L1002.7,577.1 L1003.2,578.0 L1003.7,581.7 L1004.2,581.0 L1004.7,576.2 L1005.2,575.6 L1005.7,570.9 L1006.2,570.3 L1006.7,563.8 L1007.2,558.8 L1007.7,557.9 L1008.2,557.2 L1008.7,555.3 L1009.2,553.0 L1009.7,553.0 L1010.2,553.0 L1010.7,553.0 L1011.2,553.0 L1011.7,553.0 L1012.2,554.2 L1012.7,551.7 L1013.2,551.7 L1013.7,551.7 L1014.2,550.9 L1014.7,551.7 L1015.2,545.8 L1015.7,529.1 L1016.2,522.3 L1016.7,521.7 L1017.2,521.2 L1017.7,520.1 L1018.2,518.0 L1018.7,518.0 L1019.2,518.0 L1019.7,518.0 L1020.2,518.0 L1020.7,511.6 L1021.2,506.9 L1021.7,506.9 L1022.2,505.9 L1022.7,488.7 L1023.2,488.0 L1023.7,488.0 L1024.2,488.0 L1024.7,488.0 L1025.2,488.0 L1025.7,488.0 L1026.2,491.6 L1026.7,492.6 L1027.2,503.5 L1027.7,509.0 L1028.2,504.4 L1028.7,497.5 L1029.2,491.7 L1029.7,482.9 L1030.2,477.1 L1030.7,472.4 L1031.2,464.4 L1031.7,459.5 L1032.2,454.4 L1032.7,453.2 L1033.2,444.1 L1033.7,442.4 L1034.2,441.7 L1034.7,441.7 L1035.2,441.7 L1035.7,438.9 L1036.2,438.0 L1036.7,432.0 L1037.2,426.4 L1037.7,424.2 L1038.2,423.6 L1038.7,417.0 L1039.2,407.1 L1039.7,405.8 L1040.2,403.0 L1040.7,403.0 L1041.2,403.0 L1041.7,403.0 L1042.2,403.0 L1042.7,403.0 L1043.2,403.0 L1043.7,403.0 L1044.2,403.0 L1044.7,405.1 L1045.2,421.0 L1045.7,430.0 L1046.2,430.0 L1046.7,436.8 L1047.2,441.6 L1047.7,447.2 L1048.2,448.9 L1048.7,444.2 L1049.2,437.9 L1049.7,415.6 L1050.2,415.0 L1050.7,402.4 L1051.2,401.4 L1051.7,397.0 L1052.2,395.8 L1052.7,391.1 L1053.2,386.1 L1053.7,385.4 L1054.2,381.3 L1054.7,374.1 L1055.2,373.1 L1055.7,367.9 L1056.2,367.0 L1056.7,362.6 L1057.2,357.6 L1057.7,356.4 L1058.2,351.8 L1058.7,350.5 L1059.2,349.3 L1059.7,344.1 L1060.2,339.4 L1060.7,334.8 L1061.2,334.0 L1061.7,333.3 L1062.2,327.3 L1062.7,326.4 L1063.2,322.0 L1063.7,317.6 L1064.2,316.7 L1064.7,312.7 L1065.2,289.6 L1065.7,286.7 L1066.2,286.7 L1066.7,286.7 L1067.2,286.7 L1067.7,286.7 L1068.2,286.7 L1068.7,278.7 L1069.2,272.2 L1069.7,271.2 L1070.2,265.6 L1070.7,264.5 L1071.2,264.0 L1071.7,264.0 L1072.2,264.0 L1072.7,264.0 L1073.2,264.0 L1073.7,267.5 L1074.2,272.8 L1074.7,268.5 L1075.2,273.7 L1075.7,284.1 L1076.2,296.4 L1076.7,306.6 L1077.2,306.6 L1077.7,305.3 L1078.2,301.7 L1078.7,301.7 L1079.2,301.7 L1079.7,301.7 L1080.2,301.7 L1080.7,301.7 L1081.2,303.4 L1081.7,314.0 L1082.2,313.7 L1082.7,323.5 L1083.2,333.5 L1083.7,342.0 L1084.2,348.2 L1084.7,353.3 L1085.2,361.7 L1085.7,361.7 L1086.2,361.7 L1086.7,361.7 L1087.2,361.7 L1087.7,374.2 L1088.2,386.7 L1088.7,386.7 L1089.2,386.7 L1089.7,391.8 L1089.7,408.0 L1089.2,408.0 L1088.7,408.0 L1088.2,407.5 L1087.7,407.0 L1087.2,407.0 L1086.7,407.0 L1086.2,407.0 L1085.7,407.0 L1085.2,407.0 L1084.7,407.0 L1084.2,406.2 L1083.7,404.4 L1083.2,393.2 L1082.7,377.8 L1082.2,366.7 L1081.7,366.7 L1081.2,362.8 L1080.7,361.9 L1080.2,356.5 L1079.7,346.5 L1079.2,345.5 L1078.7,340.6 L1078.2,340.6 L1077.7,341.5 L1077.2,346.0 L1076.7,350.0 L1076.2,350.0 L1075.7,350.0 L1075.2,350.0 L1074.7,350.0 L1074.2,348.0 L1073.7,337.5 L1073.2,337.5 L1072.7,315.5 L1072.2,305.8 L1071.7,297.3 L1071.2,298.5 L1070.7,305.0 L1070.2,305.0 L1069.7,305.0 L1069.2,305.0 L1068.7,305.0 L1068.2,311.2 L1067.7,311.2 L1067.2,315.1 L1066.7,316.0 L1066.2,320.3 L1065.7,321.3 L1065.2,326.0 L1064.7,326.6 L1064.2,332.7 L1063.7,333.5 L1063.2,337.8 L1062.7,342.9 L1062.2,343.5 L1061.7,348.5 L1061.2,349.8 L1060.7,351.0 L1060.2,355.7 L1059.7,360.9 L1059.2,365.7 L1058.7,366.6 L1058.2,367.4 L1057.7,372.6 L1057.2,379.9 L1056.7,380.6 L1056.2,384.7 L1055.7,389.8 L1055.2,390.7 L1054.7,394.8 L1054.2,399.9 L1053.7,400.8 L1053.2,413.7 L1052.7,429.5 L1052.2,435.1 L1051.7,442.6 L1051.2,447.5 L1050.7,452.8 L1050.2,458.1 L1049.7,462.8 L1049.2,464.8 L1048.7,465.0 L1048.2,465.0 L1047.7,465.0 L1047.2,465.0 L1046.7,465.0 L1046.2,465.0 L1045.7,461.8 L1045.2,461.0 L1044.7,455.5 L1044.2,451.8 L1043.7,451.1 L1043.2,440.5 L1042.7,440.0 L1042.2,440.0 L1041.7,440.0 L1041.2,440.0 L1040.7,436.1 L1040.2,437.0 L1039.7,442.1 L1039.2,449.0 L1038.7,450.0 L1038.2,450.0 L1037.7,450.0 L1037.2,450.0 L1036.7,450.0 L1036.2,450.0 L1035.7,450.0 L1035.2,457.4 L1034.7,462.7 L1034.2,463.3 L1033.7,475.6 L1033.2,476.2 L1032.7,486.3 L1032.2,490.9 L1031.7,496.0 L1031.2,502.5 L1030.7,512.2 L1030.2,514.7 L1029.7,515.6 L1029.2,516.2 L1028.7,516.7 L1028.2,518.5 L1027.7,520.0 L1027.2,520.0 L1026.7,520.0 L1026.2,520.0 L1025.7,520.0 L1025.2,520.0 L1024.7,518.7 L1024.2,520.6 L1023.7,522.1 L1023.2,527.3 L1022.7,528.0 L1022.2,528.0 L1021.7,528.0 L1021.2,528.0 L1020.7,528.0 L1020.2,528.0 L1019.7,539.0 L1019.2,549.3 L1018.7,555.2 L1018.2,556.7 L1017.7,556.7 L1017.2,556.7 L1016.7,556.7 L1016.2,556.7 L1015.7,556.7 L1015.2,556.7 L1014.7,555.8 L1014.2,562.2 L1013.7,563.0 L1013.2,563.0 L1012.7,563.0 L1012.2,563.0 L1011.7,563.0 L1011.2,563.0 L1010.7,563.0 L1010.2,563.0 L1009.7,563.1 L1009.2,563.1 L1008.7,569.6 L1008.2,570.3 L1007.7,575.3 L1007.2,575.8 L1006.7,580.0 L1006.2,581.5 L1005.7,581.7 L1005.2,581.7 L1004.7,581.7 L1004.2,581.7 L1003.7,581.7 L1003.2,581.7 L1002.7,581.7 L1002.2,581.7 L1001.7,581.7 L1001.2,578.2 L1000.7,577.4 L1000.2,576.5 L999.7,574.9 L999.2,582.8 L998.7,597.5 L998.2,598.4 L997.7,602.5 L997.2,602.5 L996.7,602.5 L996.2,602.5 L995.7,602.5 L995.2,602.5 L994.7,601.2 L994.2,590.6 L993.7,589.5 L993.2,589.5 L992.7,573.3 L992.2,566.8 L991.7,558.0 L991.2,558.0 L990.7,558.0 L990.2,559.2 L989.7,572.1 L989.2,572.8 L988.7,577.3 L988.2,583.0 L987.7,586.7 L987.2,586.7 L986.7,586.7 L986.2,586.7 L985.7,586.7 L985.2,591.4 L984.7,592.3 L984.2,592.3 L983.7,593.5 L983.2,596.7 L982.7,596.7 L982.2,596.7 L981.7,596.7 L981.2,596.7 L980.7,596.7 L980.2,596.7 L979.7,598.9 L979.2,598.9 L978.7,604.8 L978.2,605.8 L977.7,606.9 L977.2,607.6 L976.7,608.4 L976.2,609.1 L975.7,610.3 L975.2,614.4 L974.7,615.3 L974.2,619.8 L973.7,625.1 L973.2,626.0 L972.7,626.7 L972.2,626.7 L971.7,626.7 L971.2,626.7 L970.7,626.7 L970.2,626.7 L969.7,623.1 L969.2,622.6 L968.7,622.2 L968.2,624.6 L967.7,625.9 L967.2,625.9 L966.7,626.7 L966.2,626.7 L965.7,626.7 L965.2,626.7 L964.7,626.7 L964.2,626.7 L963.7,622.7 L963.2,617.4 L962.7,616.8 L962.2,616.8 L961.7,618.8 L961.2,623.8 L960.7,629.4 L960.2,635.5 L959.7,636.7 L959.2,636.7 L958.7,636.7 L958.2,640.2 L957.7,650.9 L957.2,653.0 L956.7,653.0 L956.2,653.0 L955.7,653.0 L955.2,653.0 L954.7,653.0 L954.2,653.0 L953.7,653.0 L953.2,649.7 L952.7,648.4 L952.2,638.1 L951.7,631.5 L951.2,631.7 L950.7,621.6 L950.2,604.8 L949.7,605.7 L949.2,618.6 L948.7,629.0 L948.2,630.0 L947.7,630.0 L947.2,630.0 L946.7,630.0 L946.2,630.0 L945.7,630.0 L945.2,630.0 L944.7,630.0 L944.2,628.0 L943.7,628.0 L943.2,628.0 L942.7,628.0 L942.2,628.0 L941.7,628.0 L941.2,628.0 L940.7,627.3 L940.2,626.7 L939.7,626.7 L939.2,626.7 L938.7,626.7 L938.2,626.7 L937.7,626.7 L937.2,626.7 L936.7,626.7 L936.2,621.1 L935.7,616.7 L935.2,616.7 L934.7,616.7 L934.2,622.4 L933.7,632.1 L933.2,632.1 L932.7,643.3 L932.2,653.3 L931.7,655.5 L931.2,655.8 L930.7,655.8 L930.2,655.8 L929.7,655.8 L929.2,652.1 L928.7,651.2 L928.2,650.1 L927.7,644.6 L927.2,639.7 L926.7,631.8 L926.2,626.0 L925.7,601.7 L925.2,601.7 L924.7,601.7 L924.2,601.7 L923.7,597.5 L923.2,597.5 L922.7,596.5 L922.2,586.5 L921.7,574.2 L921.2,573.3 L920.7,571.7 L920.2,571.7 L919.7,571.7 L919.2,571.7 L918.7,569.9 L918.2,572.6 L917.7,573.5 L917.2,578.2 L916.7,584.9 L916.2,584.9 L915.7,596.7 L915.2,618.2 L914.7,620.0 L914.2,619.7 L913.7,620.0 L913.2,620.0 L912.7,620.0 L912.2,620.0 L911.7,620.0 L911.2,620.0 L910.7,616.0 L910.2,615.4 L909.7,614.5 L909.2,613.0 L908.7,613.0 L908.2,613.0 L907.7,613.0 L907.2,613.0 L906.7,612.0 L906.2,600.1 L905.7,588.5 L905.2,587.8 L904.7,585.0 L904.2,585.0 L903.7,585.0 L903.2,584.0 L902.7,577.7 L902.2,571.9 L901.7,559.5 L901.2,559.7 L900.7,558.8 L900.2,542.0 L899.7,540.8 L899.2,531.2 L898.7,530.6 L898.2,535.7 L897.7,536.7 L897.2,536.7 L896.7,536.7 L896.2,536.7 L895.7,536.7 L895.2,532.8 L894.7,532.1 L894.2,527.2 L893.7,522.3 L893.2,521.4 L892.7,527.5 L892.2,529.3 L891.7,531.0 L891.2,535.6 L890.7,540.1 L890.2,541.0 L889.7,545.9 L889.2,547.7 L888.7,548.0 L888.2,548.0 L887.7,548.0 L887.2,548.0 L886.7,544.5 L886.2,543.9 L885.7,539.7 L885.2,538.5 L884.7,533.0 L884.2,531.8 L883.7,530.8 L883.2,526.3 L882.7,521.4 L882.2,520.8 L881.7,515.8 L881.2,513.7 L880.7,507.4 L880.2,500.1 L879.7,507.5 L879.2,507.5 L878.7,507.5 L878.2,507.5 L877.7,507.5 L877.2,507.5 L876.7,507.5 L876.2,507.5 L875.7,503.4 L875.2,498.2 L874.7,492.9 L874.2,480.2 L873.7,470.2 L873.2,465.0 L872.7,465.0 L872.2,465.0 L871.7,460.4 L871.2,454.9 L870.7,438.6 L870.2,443.8 L869.7,451.0 L869.2,450.8 L868.7,457.0 L868.2,457.9 L867.7,467.6 L867.2,470.0 L866.7,470.0 L866.2,470.0 L865.7,470.0 L865.2,470.0 L864.7,470.0 L864.2,470.0 L863.7,470.0 L863.2,466.2 L862.7,465.3 L862.2,465.0 L861.7,465.0 L861.2,465.0 L860.7,465.0 L860.2,465.0 L859.7,464.7 L859.2,462.5 L858.7,457.8 L858.2,453.3 L857.7,452.5 L857.2,452.3 L856.7,452.3 L856.2,456.0 L855.7,456.0 L855.2,457.3 L854.7,468.1 L854.2,470.5 L853.7,471.0 L853.2,471.0 L852.7,471.0 L852.2,471.0 L851.7,471.0 L851.2,471.0 L850.7,471.0 L850.2,471.0 L849.7,467.6 L849.2,466.7 L848.7,465.6 L848.2,456.1 L847.7,455.2 L847.2,454.0 L846.7,454.0 L846.2,454.0 L845.7,454.0 L845.2,453.5 L844.7,452.1 L844.2,446.2 L843.7,446.0 L843.2,446.0 L842.7,456.2 L842.2,457.5 L841.7,457.5 L841.2,457.5 L840.7,457.5 L840.2,457.5 L839.7,457.5 L839.2,457.5 L838.7,457.5 L838.2,457.5 L837.7,452.1 L837.2,446.7 L836.7,451.8 L836.2,457.0 L835.7,465.0 L835.2,475.1 L834.7,476.0 L834.2,480.0 L833.7,480.0 L833.2,480.0 L832.7,480.0 L832.2,480.0 L831.7,480.0 L831.2,480.0 L830.7,481.2 L830.2,482.1 L829.7,486.7 L829.2,486.7 L828.7,486.7 L828.2,486.7 L827.7,486.7 L827.2,486.7 L826.7,486.7 L826.2,486.7 L825.7,486.0 L825.2,479.7 L824.7,475.0 L824.2,475.0 L823.7,475.0 L823.2,475.0 L822.7,480.5 L822.2,490.8 L821.7,495.4 L821.2,498.0 L820.7,498.0 L820.2,498.0 L819.7,498.0 L819.2,498.0 L818.7,498.0 L818.2,498.0 L817.7,498.0 L817.2,493.9 L816.7,493.4 L816.2,493.4 L815.7,488.5 L815.2,483.0 L814.7,478.8 L814.2,478.8 L813.7,480.0 L813.2,491.7 L812.7,491.7 L812.2,491.7 L811.7,491.7 L811.2,491.7 L810.7,491.7 L810.2,501.5 L809.7,521.9 L809.2,521.7 L808.7,522.5 L808.2,528.9 L807.7,529.5 L807.2,530.1 L806.7,530.6 L806.2,536.4 L805.7,541.3 L805.2,552.1 L804.7,553.0 L804.2,553.9 L803.7,556.7 L803.2,556.7 L802.7,556.7 L802.2,556.7 L801.7,555.9 L801.2,554.2 L800.7,534.0 L800.2,527.9 L799.7,522.6 L799.2,506.5 L798.7,505.6 L798.2,500.7 L797.7,499.2 L797.2,498.0 L796.7,486.9 L796.2,483.6 L795.7,484.5 L795.2,496.7 L794.7,507.1 L794.2,523.0 L793.7,523.9 L793.2,528.0 L792.7,528.0 L792.2,528.0 L791.7,528.0 L791.2,526.7 L790.7,520.3 L790.2,520.3 L789.7,510.3 L789.2,494.8 L788.7,484.1 L788.2,483.2 L787.7,473.5 L787.2,473.5 L786.7,468.8 L786.2,467.2 L785.7,460.1 L785.2,450.0 L784.7,450.0 L784.2,450.0 L783.7,450.0 L783.2,446.2 L782.7,445.3 L782.2,440.1 L781.7,430.0 L781.2,427.1 L780.7,430.0 L780.2,430.0 L779.7,430.0 L779.2,430.0 L778.7,430.0 L778.2,422.3 L777.7,418.2 L777.2,417.3 L776.7,405.7 L776.2,408.1 L775.7,418.8 L775.2,428.5 L774.7,434.7 L774.2,436.4 L773.7,447.8 L773.2,457.5 L772.7,464.2 L772.2,465.1 L771.7,468.0 L771.2,468.0 L770.7,468.0 L770.2,468.0 L769.7,466.7 L769.2,460.7 L768.7,449.2 L768.2,441.7 L767.7,440.7 L767.2,435.7 L766.7,436.0 L766.2,422.9 L765.7,417.5 L765.2,407.3 L764.7,396.7 L764.2,401.7 L763.7,401.7 L763.2,401.7 L762.7,401.7 L762.2,401.7 L761.7,401.7 L761.2,401.7 L760.7,401.7 L760.2,400.9 L759.7,384.6 L759.2,360.5 L758.7,359.2 L758.2,363.0 L757.7,363.0 L757.2,363.0 L756.7,363.0 L756.2,363.0 L755.7,363.0 L755.2,363.0 L754.7,363.0 L754.2,361.4 L753.7,355.7 L753.2,351.0 L752.7,345.8 L752.2,345.0 L751.7,345.0 L751.2,345.0 L750.7,345.0 L750.2,345.0 L749.7,345.0 L749.2,341.7 L748.7,341.7 L748.2,341.7 L747.7,341.7 L747.2,341.7 L746.7,341.7 L746.2,338.5 L745.7,336.5 L745.2,332.1 L744.7,327.1 L744.2,325.0 L743.7,325.0 L743.2,325.0 L742.7,324.0 L742.2,318.7 L741.7,318.7 L741.2,312.6 L740.7,308.1 L740.2,308.4 L739.7,301.2 L739.2,280.9 L738.7,281.4 L738.2,282.0 L737.7,286.6 L737.2,287.8 L736.7,291.7 L736.2,291.7 L735.7,291.7 L735.2,291.7 L734.7,291.7 L734.2,291.7 L733.7,291.7 L733.2,290.2 L732.7,284.9 L732.2,296.7 L731.7,296.7 L731.2,296.7 L730.7,296.7 L730.2,302.7 L729.7,308.1 L729.2,313.7 L728.7,315.0 L728.2,315.0 L727.7,315.0 L727.2,315.0 L726.7,315.0 L726.2,315.0 L725.7,315.0 L725.2,311.5 L724.7,310.3 L724.2,304.5 L723.7,299.8 L723.2,294.9 L722.7,287.3 L722.2,286.1 L721.7,281.7 L721.2,276.8 L720.7,271.4 L720.2,265.4 L719.7,264.2 L719.2,263.3 L718.7,259.4 L718.2,258.5 L717.7,257.2 L717.2,255.4 L716.7,258.0 L716.2,265.9 L715.7,267.0 L715.2,276.8 L714.7,281.7 L714.2,281.7 L713.7,281.7 L713.2,281.7 L712.7,281.7 L712.2,281.7 L711.7,281.7 L711.2,281.7 L710.7,280.9 L710.2,275.6 L709.7,274.5 L709.2,273.0 L708.7,273.0 L708.2,273.0 L707.7,273.0 L707.2,273.0 L706.7,273.0 L706.2,269.5 L705.7,274.5 L705.2,279.1 L704.7,285.1 L704.2,289.8 L703.7,290.7 L703.2,295.0 L702.7,295.0 L702.2,295.0 L701.7,295.0 L701.2,295.0 L700.7,295.0 L700.2,295.0 L699.7,295.0 L699.2,293.7 L698.7,287.4 L698.2,282.7 L697.7,280.0 L697.2,280.0 L696.7,280.0 L696.2,280.0 L695.7,280.0 L695.2,277.1 L694.7,274.5 L694.2,273.0 L693.7,273.0 L693.2,273.0 L692.7,273.0 L692.2,273.0 L691.7,273.0 L691.2,272.3 L690.7,270.5 L690.2,265.7 L689.7,269.1 L689.2,280.4 L688.7,281.7 L688.2,281.7 L687.7,281.7 L687.2,281.7 L686.7,281.7 L686.2,281.7 L685.7,281.7 L685.2,286.5 L684.7,288.0 L684.2,293.9 L683.7,301.9 L683.2,302.7 L682.7,307.0 L682.2,306.7 L681.7,316.5 L681.2,318.2 L680.7,318.8 L680.2,318.8 L679.7,318.8 L679.2,318.8 L678.7,322.9 L678.2,323.9 L677.7,340.1 L677.2,341.0 L676.7,345.0 L676.2,345.0 L675.7,345.0 L675.2,345.0 L674.7,345.0 L674.2,345.0 L673.7,345.0 L673.2,344.8 L672.7,339.0 L672.2,339.0 L671.7,338.0 L671.2,338.0 L670.7,338.0 L670.2,338.0 L669.7,338.0 L669.2,338.0 L668.7,338.0 L668.2,338.0 L667.7,338.0 L667.2,337.5 L666.7,337.5 L666.2,337.5 L665.7,337.5 L665.2,337.5 L664.7,337.5 L664.2,337.5 L663.7,337.5 L663.2,333.8 L662.7,323.8 L662.2,323.8 L661.7,323.8 L661.2,323.8 L660.7,323.8 L660.2,318.6 L659.7,313.5 L659.2,304.0 L658.7,302.9 L658.2,311.0 L657.7,322.5 L657.2,324.0 L656.7,324.7 L656.2,328.3 L655.7,329.5 L655.2,336.6 L654.7,342.3 L654.2,343.5 L653.7,343.8 L653.2,343.8 L652.7,343.8 L652.2,343.8 L651.7,354.5 L651.2,355.4 L650.7,370.0 L650.2,370.9 L649.7,375.0 L649.2,375.0 L648.7,375.0 L648.2,375.0 L647.7,375.0 L647.2,375.0 L646.7,375.0 L646.2,375.0 L645.7,373.6 L645.2,368.8 L644.7,368.8 L644.2,368.8 L643.7,368.8 L643.2,368.8 L642.7,368.8 L642.2,368.8 L641.7,366.7 L641.2,361.7 L640.7,360.9 L640.2,350.8 L639.7,355.0 L639.2,355.0 L638.7,355.0 L638.2,355.0 L637.7,355.0 L637.2,355.0 L636.7,355.6 L636.2,356.8 L635.7,357.5 L635.2,357.5 L634.7,357.5 L634.2,357.5 L633.7,357.5 L633.2,357.5 L632.7,357.5 L632.2,357.5 L631.7,357.5 L631.2,353.5 L630.7,352.6 L630.2,343.5 L629.7,338.1 L629.2,332.5 L628.7,332.5 L628.2,332.5 L627.7,332.5 L627.2,332.5 L626.7,327.4 L626.2,327.4 L625.7,317.7 L625.2,316.3 L624.7,310.0 L624.2,310.0 L623.7,310.0 L623.2,310.0 L622.7,307.4 L622.2,306.2 L621.7,299.9 L621.2,296.2 L620.7,301.6 L620.2,302.4 L619.7,307.5 L619.2,308.4 L618.7,313.0 L618.2,320.6 L617.7,321.2 L617.2,326.3 L616.7,332.7 L616.2,337.9 L615.7,339.1 L615.2,344.0 L614.7,345.0 L614.2,345.0 L613.7,345.0 L613.2,345.0 L612.7,345.0 L612.2,345.0 L611.7,345.0 L611.2,340.9 L610.7,339.7 L610.2,338.8 L609.7,338.8 L609.2,338.8 L608.7,338.8 L608.2,339.0 L607.7,340.0 L607.2,340.0 L606.7,340.0 L606.2,340.0 L605.7,340.0 L605.2,340.0 L604.7,343.2 L604.2,347.5 L603.7,347.5 L603.2,347.5 L602.7,347.5 L602.2,347.5 L601.7,347.9 L601.2,349.4 L600.7,354.2 L600.2,358.8 L599.7,358.8 L599.2,358.8 L598.7,358.8 L598.2,358.8 L597.7,358.8 L597.2,358.8 L596.7,358.8 L596.2,357.2 L595.7,350.9 L595.2,334.6 L594.7,335.2 L594.2,348.9 L593.7,359.1 L593.2,359.1 L592.7,364.4 L592.2,374.8 L591.7,375.5 L591.2,380.0 L590.7,380.0 L590.2,380.0 L589.7,380.0 L589.2,380.0 L588.7,382.1 L588.2,383.0 L587.7,383.0 L587.2,383.0 L586.7,383.0 L586.2,383.0 L585.7,383.0 L585.2,383.0 L584.7,380.2 L584.2,379.4 L583.7,378.5 L583.2,368.7 L582.7,367.5 L582.2,366.6 L581.7,360.8 L581.2,358.0 L580.7,363.6 L580.2,364.5 L579.7,367.7 L579.2,369.4 L578.7,375.8 L578.2,380.9 L577.7,385.8 L577.2,390.7 L576.7,396.4 L576.2,397.7 L575.7,398.7 L575.2,403.3 L574.7,404.2 L574.2,408.0 L573.7,408.8 L573.2,409.5 L572.7,416.2 L572.2,421.6 L571.7,427.2 L571.2,428.2 L570.7,432.5 L570.2,437.1 L569.7,437.9 L569.2,438.6 L568.7,442.5 L568.2,442.5 L567.7,442.5 L567.2,442.5 L566.7,441.4 L566.2,435.7 L565.7,430.5 L565.2,428.3 L564.7,433.6 L564.2,440.0 L563.7,445.4 L563.2,445.4 L562.7,446.1 L562.2,450.3 L561.7,451.5 L561.2,452.7 L560.7,455.0 L560.2,455.0 L559.7,455.0 L559.2,455.0 L558.7,454.3 L558.2,452.5 L557.7,448.0 L557.2,443.4 L556.7,436.1 L556.2,434.9 L555.7,426.0 L555.2,424.8 L554.7,413.0 L554.2,410.6 L553.7,409.1 L553.2,413.8 L552.7,418.7 L552.2,419.3 L551.7,425.8 L551.2,425.8 L550.7,425.8 L550.2,425.8 L549.7,425.8 L549.2,425.8 L548.7,425.8 L548.2,422.0 L547.7,420.9 L547.2,421.7 L546.7,421.7 L546.2,421.7 L545.7,421.7 L545.2,421.7 L544.7,421.7 L544.2,420.2 L543.7,414.8 L543.2,409.4 L542.7,398.9 L542.2,393.6 L541.7,393.0 L541.2,392.4 L540.7,386.7 L540.2,385.3 L539.7,373.8 L539.2,368.1 L538.7,370.0 L538.2,375.9 L537.7,382.1 L537.2,382.6 L536.7,386.7 L536.2,386.7 L535.7,386.7 L535.2,386.7 L534.7,386.7 L534.2,385.2 L533.7,384.8 L533.2,386.0 L532.7,396.9 L532.2,407.3 L531.7,415.2 L531.2,415.2 L530.7,415.8 L530.2,420.1 L529.7,421.3 L529.2,425.4 L528.7,427.7 L528.2,428.0 L527.7,428.0 L527.2,428.0 L526.7,428.0 L526.2,424.0 L525.7,423.4 L525.2,422.7 L524.7,417.6 L524.2,412.5 L523.7,411.2 L523.2,411.2 L522.7,404.2 L522.2,399.6 L521.7,401.3 L521.2,402.1 L520.7,403.0 L520.2,403.6 L519.7,406.7 L519.2,406.7 L518.7,406.7 L518.2,406.7 L517.7,406.2 L517.2,404.8 L516.7,405.0 L516.2,403.8 L515.7,400.2 L515.2,399.3 L514.7,391.3 L514.2,386.3 L513.7,370.9 L513.2,366.7 L512.7,366.7 L512.2,366.7 L511.7,366.7 L511.2,366.7 L510.7,366.7 L510.2,364.1 L509.7,360.7 L509.2,361.9 L508.7,366.5 L508.2,368.0 L507.7,368.0 L507.2,368.0 L506.7,368.0 L506.2,368.0 L505.7,368.0 L505.2,363.5 L504.7,358.3 L504.2,358.3 L503.7,341.3 L503.2,336.0 L502.7,335.4 L502.2,330.2 L501.7,329.1 L501.2,330.0 L500.7,330.0 L500.2,330.0 L499.7,330.0 L499.2,330.0 L498.7,330.0 L498.2,328.0 L497.7,322.4 L497.2,322.6 L496.7,317.3 L496.2,314.4 L495.7,315.5 L495.2,315.5 L494.7,319.9 L494.2,321.4 L493.7,321.7 L493.2,321.7 L492.7,321.7 L492.2,321.7 L491.7,318.1 L491.2,317.1 L490.7,312.6 L490.2,312.0 L489.7,306.7 L489.2,305.8 L488.7,304.9 L488.2,304.0 L487.7,304.7 L487.2,307.6 L486.7,308.5 L486.2,309.1 L485.7,313.8 L485.2,314.8 L484.7,315.2 L484.2,315.4 L483.7,315.6 L483.2,315.8 L482.7,316.1 L482.2,316.6 L481.7,317.2 L481.2,320.9 L480.7,326.1 L480.2,331.1 L479.7,332.6 L479.2,335.2 L478.7,335.8 L478.2,335.8 L477.7,335.8 L477.2,335.8 L476.7,335.1 L476.2,333.4 L475.7,327.6 L475.2,318.6 L474.7,313.1 L474.2,307.1 L473.7,306.4 L473.2,305.5 L472.7,300.3 L472.2,295.7 L471.7,294.5 L471.2,293.0 L470.7,286.8 L470.2,283.1 L469.7,282.2 L469.2,280.2 L468.7,280.7 L468.2,281.3 L467.7,281.7 L467.2,281.7 L466.7,281.7 L466.2,281.7 L465.7,281.7 L465.2,277.6 L464.7,276.7 L464.2,272.0 L463.7,271.1 L463.2,267.2 L462.7,267.4 L462.2,267.9 L461.7,268.5 L461.2,272.3 L460.7,273.2 L460.2,279.1 L459.7,280.1 L459.2,281.0 L458.7,285.5 L458.2,286.5 L457.7,290.0 L457.2,290.0 L456.7,290.0 L456.2,290.0 L455.7,290.0 L455.2,289.1 L454.7,288.2 L454.2,286.4 L453.7,290.0 L453.2,290.6 L452.7,295.9 L452.2,296.7 L451.7,301.6 L451.2,302.8 L450.7,309.0 L450.2,309.7 L449.7,314.1 L449.2,315.0 L448.7,315.9 L448.2,319.0 L447.7,319.0 L447.2,319.0 L446.7,319.0 L446.2,318.2 L445.7,316.7 L445.2,317.0 L444.7,312.1 L444.2,311.2 L443.7,303.4 L443.2,303.4 L442.7,293.0 L442.2,293.0 L441.7,293.0 L441.2,293.0 L440.7,293.0 L440.2,293.0 L439.7,293.0 L439.2,293.0 L438.7,291.5 L438.2,300.5 L437.7,302.2 L437.2,303.0 L436.7,303.0 L436.2,303.0 L435.7,303.0 L435.2,303.0 L434.7,303.0 L434.2,303.0 L433.7,298.9 L433.2,293.4 L432.7,288.4 L432.2,291.7 L431.7,291.7 L431.2,291.7 L430.7,291.7 L430.2,291.7 L429.7,291.7 L429.2,291.7 L428.7,291.7 L428.2,291.2 L427.7,288.3 L427.2,299.2 L426.7,299.8 L426.2,304.6 L425.7,305.6 L425.2,306.7 L424.7,306.7 L424.2,306.7 L423.7,306.7 L423.2,306.7 L422.7,306.7 L422.2,306.7 L421.7,306.7 L421.2,306.7 L420.7,305.0 L420.2,305.0 L419.7,305.0 L419.2,305.0 L418.7,305.0 L418.2,302.8 L417.7,298.8 L417.2,293.0 L416.7,290.0 L416.2,290.0 L415.7,290.0 L415.2,290.0 L414.7,290.0 L414.2,290.0 L413.7,290.0 L413.2,239.7 L412.7,240.9 L412.2,245.0 L411.7,245.0 L411.2,245.0 L410.7,245.0 L410.2,245.0 L409.7,245.0 L409.2,242.9 L408.7,232.5 L408.2,254.7 L407.7,263.3 L407.2,264.3 L406.7,279.7 L406.2,279.7 L405.7,281.7 L405.2,281.7 L404.7,281.7 L404.2,281.7 L403.7,281.7 L403.2,281.7 L402.7,277.7 L402.2,274.3 L401.7,280.9 L401.2,281.5 L400.7,285.6 L400.2,290.5 L399.7,291.4 L399.2,292.1 L398.7,297.2 L398.2,298.1 L397.7,298.8 L397.2,302.3 L396.7,303.5 L396.2,311.0 L395.7,311.8 L395.2,321.3 L394.7,322.3 L394.2,323.4 L393.7,326.7 L393.2,326.7 L392.7,326.7 L392.2,326.7 L391.7,326.7 L391.2,326.2 L390.7,324.9 L390.2,325.2 L389.7,328.0 L389.2,328.0 L388.7,328.0 L388.2,328.0 L387.7,328.0 L387.2,328.0 L386.7,328.0 L386.2,324.8 L385.7,323.9 L385.2,323.0 L384.7,320.2 L384.2,324.9 L383.7,325.9 L383.2,325.9 L382.7,326.7 L382.2,326.7 L381.7,326.7 L381.2,326.7 L380.7,326.7 L380.2,322.2 L379.7,316.8 L379.2,306.0 L378.7,294.0 L378.2,271.4 L377.7,270.5 L377.2,269.7 L376.7,273.3 L376.2,278.2 L375.7,279.1 L375.2,279.8 L374.7,281.2 L374.2,285.5 L373.7,286.1 L373.2,290.3 L372.7,290.3 L372.2,291.2 L371.7,291.7 L371.2,291.7 L370.7,291.7 L370.2,291.7 L369.7,291.7 L369.2,292.1 L368.7,307.6 L368.2,311.7 L367.7,311.7 L367.2,311.7 L366.7,311.7 L366.2,311.7 L365.7,311.7 L365.2,309.7 L364.7,299.0 L364.2,290.9 L363.7,305.9 L363.2,307.1 L362.7,308.0 L362.2,308.3 L361.7,308.5 L361.2,308.8 L360.7,310.1 L360.2,311.4 L359.7,311.9 L359.2,312.5 L358.7,312.8 L358.2,317.6 L357.7,323.3 L357.2,324.3 L356.7,325.0 L356.2,325.0 L355.7,325.0 L355.2,325.0 L354.7,325.0 L354.2,325.0 L353.7,325.0 L353.2,325.0 L352.7,325.0 L352.2,325.0 L351.7,330.0 L351.2,331.0 L350.7,335.1 L350.2,335.5 L349.7,335.6 L349.2,335.8 L348.7,335.8 L348.2,335.8 L347.7,335.8 L347.2,335.8 L346.7,335.8 L346.2,335.8 L345.7,335.8 L345.2,335.1 L344.7,328.7 L344.2,313.0 L343.7,285.6 L343.2,270.8 L342.7,270.8 L342.2,270.8 L341.7,265.8 L341.2,260.8 L340.7,255.5 L340.2,255.0 L339.7,255.0 L339.2,257.6 L338.7,261.7 L338.2,261.7 L337.7,261.7 L337.2,261.7 L336.7,261.7 L336.2,261.7 L335.7,261.7 L335.2,261.7 L334.7,260.2 L334.2,260.5 L333.7,258.8 L333.2,243.3 L332.7,238.1 L332.2,232.7 L331.7,224.4 L331.2,191.7 L330.7,191.7 L330.2,191.7 L329.7,191.7 L329.2,197.6 L328.7,202.5 L328.2,205.0 L327.7,205.0 L327.2,205.0 L326.7,205.0 L326.2,205.0 L325.7,205.0 L325.2,205.0 L324.7,205.0 L324.2,201.1 L323.7,199.9 L323.2,199.9 L322.7,205.0 L322.2,205.7 L321.7,209.3 L321.2,215.0 L320.7,219.9 L320.2,224.8 L319.7,225.7 L319.2,238.2 L318.7,247.6 L318.2,254.7 L317.7,255.4 L317.2,265.2 L316.7,270.8 L316.2,280.4 L315.7,281.6 L315.2,282.8 L314.7,285.8 L314.2,285.8 L313.7,285.8 L313.2,285.8 L312.7,285.1 L312.2,283.6 L311.7,273.2 L311.2,278.7 L310.7,262.3 L310.2,260.0 L309.7,258.1 L309.2,262.8 L308.7,263.8 L308.2,268.0 L307.7,268.0 L307.2,268.0 L306.7,268.6 L306.2,279.0 L305.7,289.4 L305.2,291.7 L304.7,291.7 L304.2,291.7 L303.7,291.7 L303.2,291.7 L302.7,291.7 L302.2,291.7 L301.7,291.7 L301.2,291.7 L300.7,287.1 L300.2,290.4 L299.7,300.4 L299.2,305.3 L298.7,307.6 L298.2,307.6 L297.7,307.4 L297.2,308.9 L296.7,312.7 L296.2,313.9 L295.7,317.9 L295.2,318.7 L294.7,323.5 L294.2,324.1 L293.7,324.8 L293.2,326.6 L292.7,328.6 L292.2,329.5 L291.7,330.4 L291.2,336.5 L290.7,337.4 L290.2,341.2 L289.7,341.9 L289.2,346.4 L288.7,347.4 L288.2,352.3 L287.7,352.9 L287.2,356.8 L286.7,361.8 L286.2,362.4 L285.7,362.9 L285.2,370.1 L284.7,370.7 L284.2,371.1 L283.7,374.8 L283.2,375.5 L282.7,376.4 L282.2,379.7 L281.7,380.0 L281.2,380.0 L280.7,380.0 L280.2,380.0 L279.7,380.0 L279.2,380.0 L278.7,380.0 L278.2,380.0 L277.7,380.0 L277.2,380.0 L276.7,381.2 L276.2,381.0 L275.7,386.0 L275.2,400.9 L274.7,407.1 L274.2,407.1 L273.7,408.0 L273.2,417.4 L272.7,417.2 L272.2,419.0 L271.7,419.0 L271.2,419.0 L270.7,419.0 L270.2,419.0 L269.7,419.0 L269.2,419.0 L268.7,415.3 L268.2,414.6 L267.7,403.7 L267.2,388.2 L266.7,377.2 L266.2,365.0 L265.7,365.0 L265.2,365.0 L264.7,360.4 L264.2,359.7 L263.7,357.7 L263.2,357.7 L262.7,363.0 L262.2,367.3 L261.7,368.5 L261.2,373.3 L260.7,373.9 L260.2,378.0 L259.7,382.3 L259.2,383.3 L258.7,384.4 L258.2,388.0 L257.7,388.0 L257.2,388.0 L256.7,388.0 L256.2,387.5 L255.7,386.1 L255.2,380.6 L254.7,376.2 L254.2,376.2 L253.7,375.3 L253.2,371.6 L252.7,365.5 L252.2,365.5 L251.7,366.7 L251.2,366.7 L250.7,366.7 L250.2,366.7 L249.7,367.4 L249.2,368.4 L248.7,378.3 L248.2,378.3 L247.7,380.0 L247.2,380.0 L246.7,380.0 L246.2,380.0 L245.7,380.0 L245.2,380.0 L244.7,381.5 L244.2,387.2 L243.7,388.0 L243.2,388.0 L242.7,392.5 L242.2,397.6 L241.7,402.4 L241.2,404.7 L240.7,410.4 L240.2,411.1 L239.7,415.7 L239.2,420.4 L238.7,425.2 L238.2,426.2 L237.7,427.1 L237.2,430.6 L236.7,435.9 L236.2,437.7 L235.7,438.0 L235.2,438.0 L234.7,438.0 L234.2,440.9 L233.7,446.8 L233.2,451.9 L232.7,456.7 L232.2,456.7 L231.7,456.7 L231.2,456.7 L230.7,456.7 L230.2,456.7 L229.7,456.7 L229.2,456.0 L228.7,453.7 L228.2,439.3 L227.7,434.5 L227.2,436.5 L226.7,441.9 L226.2,441.9 L225.7,446.9 L225.2,447.8 L224.7,452.7 L224.2,456.7 L223.7,456.7 L223.2,456.7 L222.7,456.7 L222.2,456.7 L221.7,456.6 L221.2,456.3 L220.7,458.1 L220.2,462.9 L219.7,463.5 L219.2,474.6 L218.7,479.8 L218.2,479.6 L217.7,485.7 L217.2,490.2 L216.7,495.6 L216.2,500.0 L215.7,500.0 L215.2,500.0 L214.7,500.0 L214.2,500.0 L213.7,499.0 L213.2,499.2 L212.7,496.9 L212.2,499.9 L211.7,504.6 L211.2,510.8 L210.7,513.0 L210.2,512.8 L209.7,513.0 L209.2,513.0 L208.7,513.0 L208.2,513.0 L207.7,509.1 L207.2,507.6 L206.7,502.7 L206.2,502.7 L205.7,492.6 L205.2,492.0 L204.7,481.8 L204.2,463.3 L203.7,447.7 L203.2,442.1 L202.7,421.3 L202.2,410.3 L201.7,416.2 L201.2,396.7 L200.7,396.7 L200.2,396.7 L199.7,395.5 L199.2,383.9 L198.7,373.9 L198.2,351.6 L197.7,345.6 L197.2,341.3 L196.7,342.9 L196.2,344.1 L195.7,348.6 L195.2,353.4 L194.7,354.3 L194.2,361.2 L193.7,366.6 L193.2,377.9 L192.7,377.9 L192.2,379.7 L191.7,380.0 L191.2,380.0 L190.7,380.0 L190.2,380.0 L189.7,384.6 L189.2,389.4 L188.7,394.1 L188.2,400.0 L187.7,400.0 L187.2,400.0 L186.7,400.0 L186.2,400.0 L185.7,400.0 L185.2,400.0 L184.7,400.0 L184.2,396.9 L183.7,387.2 L183.2,388.7 L182.7,393.4 L182.2,403.4 L181.7,404.1 L181.2,405.0 L180.7,408.4 L180.2,409.0 L179.7,409.6 L179.2,410.1 L178.7,410.7 L178.2,411.3 L177.7,411.7 L177.2,411.7 L176.7,411.7 L176.2,413.8 L175.7,424.1 L175.2,439.0 L174.7,439.0 L174.2,439.0 L173.7,439.0 L173.2,439.0 L172.7,439.0 L172.2,439.0 L171.7,439.0 L171.2,439.0 L170.7,438.0 L170.2,431.3 L169.7,421.5 L169.2,401.0 L168.7,392.5 L168.2,407.3 L167.7,413.0 L167.2,421.0 L166.7,421.0 L166.2,421.0 L165.7,421.0 L165.2,421.0 L164.7,421.0 L164.2,421.0 L163.7,421.0 L163.2,416.7 L162.7,410.6 L162.2,396.0 L161.7,390.4 L161.2,385.1 L160.7,373.3 L160.2,369.4 L159.7,375.9 L159.2,380.4 L158.7,398.4 L158.2,424.9 L157.7,426.7 L157.2,432.0 L156.7,432.0 L156.2,432.0 L155.7,432.5 L155.2,437.0 L154.7,437.0 L154.2,437.0 L153.7,437.3 L153.2,440.0 L152.7,440.0 L152.2,440.0 L151.7,440.0 L151.2,440.0 L150.7,440.0 L150.2,440.0 L149.7,440.0 L149.2,440.0 L148.7,455.6 L148.2,460.6 L147.7,467.8 L147.2,467.8 L146.7,471.7 L146.2,471.7 L145.7,471.7 L145.2,471.7 L144.7,471.7 L144.2,471.7 L143.7,469.5 L143.2,469.5 L142.7,435.1 L142.2,425.9 L141.7,410.3 L141.2,406.7 L140.7,406.7 L140.2,406.7 L139.7,406.7 L139.2,406.7 L138.7,406.7 L138.2,406.2 L137.7,405.3 L137.2,403.7 L136.7,401.1 L136.2,401.1 L135.7,400.5 L135.2,397.2 L134.7,391.4 L134.2,275.3 L133.7,253.4 L133.2,249.7 L132.7,250.0 L132.2,250.0 L131.7,250.0 L131.2,250.0 L130.7,249.2 L130.2,247.5 L129.7,237.5 L129.2,231.9 L128.7,214.7 L128.2,209.0 L127.7,203.8 L127.2,198.2 L126.7,189.2 L126.2,184.1 L125.7,183.2 L125.2,184.3 L124.7,194.8 L124.2,199.7 L123.7,210.6 L123.2,215.6 L122.7,220.7 L122.2,222.7 L121.7,223.1 L121.2,223.2 L120.7,223.4 L120.2,223.5 L119.7,223.6 L119.2,223.8 L118.7,224.1 L118.2,224.4 L117.7,224.6 L117.2,224.9 L116.7,225.0 L116.2,225.0 L115.7,225.0 L115.2,225.0 L114.7,224.3 L114.2,222.8 L113.7,217.8 L113.2,208.1 L112.7,205.7 L112.2,212.3 L111.7,217.5 L111.2,217.5 L110.7,222.2 L110.2,227.2 L109.7,228.0 L109.2,228.9 L108.7,232.0 L108.2,232.0 L107.7,232.0 L107.2,232.0 L106.7,231.2 L106.2,229.4 L105.7,214.4 L105.2,214.6 L104.7,208.3 L104.2,193.4 L103.7,180.0 L103.2,168.5 L102.7,163.8 L102.2,153.2 L101.7,146.0 L101.2,146.0 L100.7,146.0 L100.2,146.0 L99.7,146.0 L99.2,146.0 L98.7,142.3 L98.2,136.0 L97.7,120.2 L97.2,120.0 L96.7,120.0 L96.2,120.0 L95.7,120.0 L95.2,120.0 L94.7,120.0 L94.2,110.0 L93.7,99.8 L93.2,83.1 L92.7,76.9 L92.2,71.4 L91.7,75.7 L91.2,82.0 L90.7,87.0 L90.2,97.5 L89.7,98.2 L89.2,103.2 L88.7,110.0 L88.2,110.9 L87.7,114.8 L87.2,120.6 L86.7,121.3 L86.2,130.9 L85.7,131.6 L85.2,136.5 L84.7,138.0 L84.2,138.0 L83.7,138.0 L83.2,138.0 L82.7,138.0 L82.2,134.6 L81.7,133.7 L81.2,161.3 L80.7,166.0 L80.2,166.0 L79.7,166.0 L79.2,166.0Z" fill="#777777" stroke="none"/>
<path d="M79.6,166.0 L79.2,163.4 L80.4,160.6 L79.2,158.1 L80.1,155.4 L79.2,153.0 L80.1,149.8 L79.6,147.7 L80.5,144.1 L79.2,142.5 L80.5,139.5 L79.7,136.1 L80.0,134.0 L81.3,130.9 L81.3,128.3 L82.4,126.0 L82.4,128.4 L83.3,131.2 L82.6,133.4 L83.8,135.7 L83.6,138.0 L84.4,135.2 L83.5,133.4 L85.2,130.7 L84.4,127.5 L85.5,124.8 L84.8,122.6 L86.4,120.2 L85.3,118.0 L86.5,114.8 L85.9,112.5 L87.6,110.0 L86.9,107.7 L87.5,105.0 L88.4,102.2 L87.8,99.5 L89.0,97.5 L88.3,94.1 L89.1,91.3 L88.5,88.7 L89.9,86.5 L89.4,84.2 L90.2,81.5 L89.9,78.5 L90.5,76.0 L91.0,73.2 L90.1,71.2 L91.4,68.8 L90.8,65.6 L92.0,63.4 L91.2,61.2 L92.0,57.8 L91.2,55.3 L92.0,53.0 L91.8,55.2 L92.7,58.4 L92.3,61.1 L93.3,63.5 L92.3,66.3 L93.8,69.3 L93.2,71.1 L94.4,74.5 L93.6,76.4 L94.8,79.9 L94.0,82.6 L95.3,84.8 L94.3,86.9 L95.0,90.0 L95.3,93.0 L94.8,95.3 L95.6,97.9 L94.8,99.8 L95.7,102.8 L95.2,104.7 L96.1,107.9 L95.1,109.8 L96.5,112.1 L95.6,114.7 L96.4,117.0 L96.0,120.0 L96.6,117.2 L96.1,114.2 L97.4,112.5 L96.6,109.4 L98.3,106.8 L97.7,103.4 L98.6,101.9 L98.1,99.1 L99.0,96.0 L98.9,98.8 L99.7,101.5 L98.9,104.5 L99.7,106.6 L98.9,109.7 L100.2,112.0 L99.1,114.9 L100.3,117.3 L99.2,120.2 L100.5,122.6 L99.5,125.1 L100.8,127.4 L99.8,130.4 L100.7,133.0 L99.8,136.0 L101.3,137.9 L100.2,140.9 L101.4,143.8 L101.0,146.0 L101.6,143.7 L101.4,140.8 L102.5,137.7 L101.7,135.3 L103.2,133.2 L103.0,130.0 L103.6,131.8 L103.0,135.0 L103.9,136.8 L103.1,139.9 L104.0,142.0 L104.6,145.1 L103.8,147.5 L104.7,149.9 L103.8,153.2 L105.2,155.2 L104.1,157.8 L105.1,160.7 L104.2,163.8 L105.6,166.5 L104.7,168.3 L105.7,171.0 L105.0,173.9 L106.0,176.6 L105.2,179.8 L106.4,181.9 L105.5,184.1 L106.6,186.8 L106.0,190.0 L105.5,192.7 L106.6,195.6 L106.1,197.4 L107.0,199.9 L106.0,202.8 L107.0,205.2 L106.3,208.3 L107.6,211.2 L106.5,214.2 L107.8,215.9 L106.9,218.5 L107.7,221.5 L107.0,223.8 L108.1,226.5 L107.3,229.4 L108.0,232.0 L107.8,229.6 L109.1,227.2 L108.2,223.5 L110.0,221.9 L109.3,218.8 L110.4,216.8 L109.8,213.7 L111.2,211.4 L110.1,208.2 L111.7,205.5 L110.8,203.4 L112.3,200.8 L111.7,198.3 L113.1,195.9 L112.2,192.9 L113.0,190.0 L112.8,193.0 L114.1,194.8 L113.4,197.5 L114.4,200.3 L113.6,202.0 L114.9,204.4 L113.9,207.2 L115.1,210.3 L114.6,212.1 L115.6,215.2 L114.7,217.8 L116.3,219.9 L115.1,222.1 L116.0,225.0 L118.4,223.7 L121.0,223.0 L121.6,220.7 L120.8,217.8 L122.2,215.4 L121.3,212.5 L122.5,210.6 L121.7,207.9 L123.0,205.0 L121.9,201.9 L123.1,199.7 L122.2,196.5 L123.7,194.6 L122.7,192.3 L123.8,189.4 L122.9,186.2 L124.2,184.1 L123.1,182.0 L124.0,179.0 L125.0,181.5 L126.9,183.4 L128.0,186.0 L127.5,189.0 L128.8,190.7 L128.2,193.7 L129.4,195.5 L128.2,198.0 L129.3,200.7 L128.6,203.3 L129.7,206.1 L129.2,208.8 L130.0,211.0 L129.5,213.2 L130.0,216.0 L130.7,218.5 L129.9,221.2 L131.0,223.4 L130.3,226.6 L131.3,229.1 L130.3,231.9 L131.8,233.9 L130.6,237.3 L132.1,239.3 L131.1,242.7 L132.0,245.3 L131.2,247.0 L132.0,250.0 L132.4,247.7 L133.8,244.6 L133.6,242.2 L135.0,240.0 L134.4,242.2 L135.6,245.5 L135.0,247.6 L135.8,251.1 L134.6,252.9 L135.9,256.3 L135.0,258.9 L135.9,260.8 L135.3,263.5 L136.2,266.7 L135.2,268.9 L136.1,271.6 L135.2,275.3 L136.6,276.8 L136.0,280.0 L135.9,283.1 L136.7,285.3 L136.0,287.5 L137.0,289.9 L136.1,291.9 L137.3,295.4 L136.6,297.5 L137.6,299.9 L136.8,302.1 L137.7,304.4 L136.7,307.9 L137.5,310.0 L138.1,313.1 L136.9,315.1 L138.0,317.9 L136.8,320.9 L137.9,323.7 L136.9,326.1 L138.2,328.3 L136.8,331.5 L138.1,334.0 L136.9,336.2 L138.1,338.4 L137.1,341.5 L137.7,344.0 L136.9,347.0 L137.8,350.0 L136.9,351.9 L138.1,354.8 L137.0,357.2 L137.5,360.0 L138.2,362.8 L136.8,365.5 L138.1,367.3 L136.7,370.8 L137.6,373.0 L136.9,375.4 L137.5,377.9 L136.7,381.5 L137.5,383.6 L136.2,386.3 L137.6,389.0 L136.2,390.9 L137.3,394.4 L136.7,396.7 L137.3,399.8 L138.6,401.6 L138.9,404.3 L140.0,406.7 L139.4,403.6 L140.6,401.4 L139.3,399.1 L140.2,396.1 L139.1,393.9 L140.0,391.5 L139.2,388.1 L139.8,385.5 L139.1,383.8 L139.8,381.4 L138.6,377.8 L139.9,376.3 L138.9,373.7 L139.5,370.5 L139.0,368.0 L140.6,369.6 L140.3,373.1 L142.2,374.3 L142.5,376.7 L141.9,379.7 L143.2,381.3 L142.2,384.3 L143.2,386.3 L142.5,389.0 L143.5,392.2 L142.7,394.3 L143.8,397.0 L142.7,399.7 L144.2,402.7 L142.9,404.5 L143.9,407.8 L143.1,410.0 L144.3,412.1 L143.4,415.0 L144.6,417.6 L143.5,419.7 L144.6,423.2 L143.6,425.6 L144.7,427.2 L144.2,430.2 L145.2,432.3 L144.2,434.9 L145.1,438.1 L144.4,440.6 L145.0,443.0 L145.4,445.6 L144.7,448.0 L145.7,451.2 L144.8,453.0 L145.8,456.2 L144.5,458.3 L145.6,461.0 L144.6,463.7 L145.8,467.1 L144.9,469.2 L145.3,471.7 L144.8,469.5 L145.9,466.3 L145.3,464.2 L146.0,460.6 L145.3,458.5 L146.5,455.6 L145.4,452.7 L146.4,450.8 L145.9,447.7 L146.9,445.5 L146.0,442.2 L146.5,440.0 L147.2,437.8 L146.6,434.5 L147.8,432.6 L146.8,430.5 L148.5,427.5 L148.0,425.0 L147.4,422.2 L148.5,419.8 L147.5,417.8 L148.6,414.7 L147.9,412.1 L148.8,409.6 L148.1,407.2 L149.1,404.7 L147.9,402.1 L148.9,399.8 L148.0,396.7 L148.9,394.5 L148.3,392.0 L149.6,389.5 L148.2,386.3 L149.5,384.6 L149.0,381.7 L149.4,383.8 L148.6,387.5 L149.5,389.8 L149.1,392.6 L150.0,394.6 L149.2,397.9 L150.1,400.6 L149.3,402.7 L150.6,405.7 L149.4,408.3 L150.6,411.1 L149.4,413.4 L150.8,416.3 L149.6,419.2 L151.0,421.9 L149.7,424.3 L151.0,427.0 L150.0,429.3 L151.2,431.6 L150.2,435.3 L151.3,436.9 L151.0,440.0 L151.5,437.3 L151.0,435.2 L151.8,431.8 L151.4,429.5 L152.5,426.3 L152.0,424.0 L152.5,426.5 L151.9,429.7 L152.8,431.3 L152.5,434.1 L153.0,437.0 L152.9,434.4 L153.9,431.1 L153.3,428.3 L154.1,426.1 L154.0,423.0 L154.7,426.0 L154.0,429.0 L155.0,432.0 L155.1,429.7 L156.0,426.7 L156.8,423.9 L155.7,422.0 L156.8,418.6 L156.1,416.8 L157.1,413.6 L156.1,411.1 L157.0,409.1 L156.2,405.5 L157.1,403.2 L156.5,401.0 L157.6,398.2 L156.8,395.0 L157.6,392.5 L156.6,390.2 L158.0,388.2 L157.5,385.0 L157.3,382.4 L158.2,380.1 L157.9,377.5 L158.9,375.0 L158.2,371.6 L159.3,368.9 L158.4,366.6 L159.8,364.2 L158.6,361.2 L160.1,358.8 L158.9,355.7 L160.5,353.3 L160.0,351.0 L160.7,353.6 L160.1,356.7 L161.1,358.6 L160.6,361.3 L161.6,364.4 L161.0,367.1 L161.9,369.3 L161.4,372.7 L162.7,374.9 L162.0,377.2 L162.5,380.0 L163.3,382.2 L162.3,385.1 L163.2,388.3 L162.5,389.9 L163.8,392.5 L163.0,395.4 L164.0,397.7 L163.3,400.7 L164.3,402.7 L163.5,405.5 L164.9,408.2 L163.8,410.6 L165.2,412.8 L164.4,415.4 L165.4,418.7 L165.0,421.0 L165.4,418.3 L164.6,415.8 L165.6,412.8 L165.1,410.0 L166.0,407.3 L165.0,405.1 L166.3,402.7 L165.3,400.3 L166.4,397.1 L165.7,394.0 L166.7,392.3 L165.6,389.7 L167.0,386.9 L166.4,383.9 L167.1,381.7 L166.5,378.7 L167.4,376.5 L166.4,373.7 L167.5,371.2 L166.6,368.3 L167.8,365.7 L167.5,363.0 L168.0,365.7 L167.1,368.1 L168.7,370.9 L167.9,373.6 L169.0,375.1 L168.4,377.7 L169.3,380.7 L169.0,383.0 L171.0,381.7 L170.7,384.8 L171.6,386.9 L171.0,390.1 L171.7,392.6 L170.9,394.8 L172.1,397.0 L170.9,400.5 L172.4,402.6 L171.5,405.5 L172.3,408.2 L171.6,410.5 L172.8,412.6 L171.7,415.1 L172.5,417.8 L171.6,421.3 L173.0,423.1 L172.0,426.3 L173.1,428.7 L172.1,430.6 L173.1,433.7 L172.6,436.3 L173.0,439.0 L172.6,436.0 L173.7,433.6 L172.8,431.0 L174.0,428.2 L172.9,425.7 L174.4,423.7 L173.3,420.8 L174.4,418.6 L173.3,416.1 L174.5,413.8 L173.5,411.0 L174.7,408.0 L173.8,405.9 L175.0,402.9 L174.1,400.8 L175.1,397.2 L174.2,395.6 L175.5,392.7 L175.0,390.0 L175.8,392.4 L174.9,395.0 L175.9,398.1 L175.4,400.8 L176.3,403.8 L175.8,406.0 L176.9,408.8 L176.7,411.7 L178.6,409.6 L180.0,408.0 L179.5,406.0 L181.0,403.4 L180.3,400.7 L181.3,398.2 L180.7,395.8 L181.7,393.2 L181.4,390.3 L182.6,387.2 L181.8,385.0 L182.7,382.2 L181.9,380.5 L183.3,377.5 L182.5,374.5 L183.5,373.1 L183.1,370.0 L184.5,368.2 L184.0,365.0 L184.6,367.3 L183.9,370.9 L185.2,372.7 L184.0,375.6 L185.2,378.0 L184.2,381.8 L185.4,384.0 L184.9,387.0 L185.6,388.7 L184.9,391.7 L186.4,395.0 L185.2,396.9 L186.0,400.0 L185.7,397.8 L187.1,394.1 L186.6,391.6 L187.8,388.9 L187.2,386.1 L188.4,384.2 L187.7,381.2 L189.1,378.6 L188.4,375.4 L189.0,373.0 L189.0,375.7 L190.7,377.7 L191.0,380.0 L191.5,377.9 L191.0,374.5 L192.3,371.3 L191.5,368.7 L192.6,366.6 L192.2,363.2 L193.4,360.5 L193.0,358.0 L193.0,355.5 L194.1,353.4 L193.4,349.7 L195.0,348.2 L194.5,345.7 L195.7,342.4 L195.1,340.3 L196.4,337.9 L195.7,335.1 L197.2,333.1 L196.5,330.0 L197.5,327.5 L197.0,329.7 L198.5,332.1 L197.6,334.9 L198.8,338.0 L197.9,340.6 L199.1,342.7 L198.6,345.4 L199.7,347.2 L198.8,350.7 L200.1,353.3 L199.5,355.1 L200.0,358.0 L200.3,360.6 L199.8,363.1 L200.7,366.1 L200.2,368.8 L201.1,370.9 L200.0,373.2 L201.1,375.8 L200.7,378.4 L201.6,381.2 L200.8,383.9 L201.5,386.8 L201.0,388.7 L201.8,391.8 L200.9,394.5 L201.7,396.7 L201.9,394.3 L203.0,392.0 L203.0,390.0 L203.8,392.0 L202.7,395.5 L204.0,397.3 L202.9,400.7 L203.7,402.6 L202.9,405.2 L204.1,407.9 L203.3,410.3 L204.1,413.9 L203.3,416.2 L204.4,418.2 L203.6,420.8 L204.7,424.2 L203.9,426.1 L205.1,429.0 L204.3,431.4 L205.2,433.5 L204.3,436.9 L205.5,439.4 L204.2,441.9 L205.4,444.9 L204.6,447.4 L205.5,449.5 L204.9,452.3 L205.7,454.5 L205.1,457.4 L205.9,460.0 L204.9,462.9 L206.4,464.8 L205.4,467.3 L206.5,470.2 L206.0,473.0 L205.8,475.1 L206.7,478.0 L206.2,481.5 L207.4,483.3 L206.6,485.9 L207.9,488.8 L206.8,492.0 L208.3,493.7 L207.4,496.9 L208.3,500.1 L207.8,502.7 L208.9,504.4 L208.2,507.4 L209.0,509.9 L209.0,513.0 L209.7,509.8 L209.0,507.5 L210.0,504.6 L209.1,502.0 L210.5,499.9 L209.8,496.6 L210.6,494.6 L210.0,491.5 L211.3,488.7 L210.4,486.1 L211.3,483.1 L210.9,481.1 L211.9,478.7 L210.8,475.4 L211.7,473.0 L211.5,476.3 L212.7,478.6 L212.1,481.7 L213.7,483.4 L212.8,486.1 L214.1,489.0 L213.8,491.8 L214.7,494.5 L214.3,496.9 L215.0,500.0 L214.8,497.4 L215.8,495.1 L215.3,491.8 L216.3,489.7 L215.9,487.3 L217.0,484.7 L216.0,481.4 L217.3,479.4 L216.8,476.8 L217.6,474.4 L217.0,471.7 L218.2,469.0 L218.0,466.7 L218.2,464.1 L219.5,462.2 L218.8,459.8 L219.9,457.4 L220.0,455.0 L223.0,456.7 L222.7,454.6 L224.0,451.7 L223.1,449.3 L224.7,446.7 L224.0,443.8 L225.1,441.9 L224.3,438.7 L225.9,435.9 L225.2,433.8 L226.2,431.1 L225.4,428.2 L226.7,425.9 L226.1,423.2 L227.2,421.2 L226.8,418.2 L227.5,416.0 L227.2,418.8 L228.4,421.2 L227.6,424.1 L229.1,425.9 L228.2,429.2 L229.2,431.5 L228.4,434.1 L230.0,436.7 L229.2,439.1 L230.2,441.5 L229.5,443.8 L230.7,446.5 L230.0,448.8 L231.0,451.2 L230.3,453.7 L231.0,456.7 L230.9,453.5 L231.6,451.7 L231.2,448.7 L232.3,446.1 L231.5,443.9 L232.7,440.4 L231.8,438.2 L233.0,435.5 L231.9,432.6 L233.3,430.1 L232.4,427.9 L233.0,425.0 L232.7,428.1 L234.3,430.0 L233.6,433.0 L235.3,435.7 L235.0,438.0 L235.7,435.4 L235.2,432.5 L236.5,429.8 L236.0,428.3 L237.6,425.0 L236.7,422.6 L238.2,420.2 L237.4,418.2 L238.7,415.4 L238.6,412.0 L239.6,410.4 L238.9,407.0 L240.0,405.0 L240.7,401.9 L240.0,399.8 L241.2,397.1 L240.4,395.0 L241.7,392.0 L241.1,389.8 L242.6,386.9 L241.6,384.4 L243.1,381.5 L242.4,378.8 L243.0,376.7 L243.7,373.7 L242.5,370.9 L243.4,368.1 L242.5,365.5 L243.6,363.0 L242.7,360.5 L243.4,357.6 L242.7,354.7 L243.0,352.5 L242.6,354.8 L243.8,357.1 L243.3,360.6 L244.4,362.9 L243.9,364.9 L245.3,367.3 L244.7,370.1 L245.7,372.6 L245.1,375.6 L246.4,378.0 L246.0,380.0 L246.7,377.9 L245.8,374.4 L246.9,371.9 L246.6,369.1 L247.5,367.4 L246.9,364.5 L247.8,361.5 L247.1,358.6 L248.0,356.7 L248.0,359.7 L249.6,361.9 L249.1,364.6 L250.0,366.7 L250.1,364.6 L252.2,362.1 L251.6,359.8 L253.0,358.0 L252.8,360.3 L254.4,362.3 L253.6,365.3 L254.9,367.8 L254.3,371.0 L255.7,373.1 L255.2,375.3 L256.7,377.7 L256.1,380.3 L257.4,382.6 L256.5,385.6 L257.5,388.0 L257.3,384.9 L258.6,382.3 L258.3,380.0 L259.3,377.5 L259.0,374.6 L260.4,372.8 L259.9,370.0 L261.0,367.3 L260.8,364.9 L261.9,362.3 L261.5,358.9 L262.8,356.1 L262.3,353.9 L263.7,351.1 L263.1,348.3 L264.6,345.6 L263.7,343.0 L265.2,340.4 L265.0,338.0 L265.7,341.1 L264.7,343.6 L266.0,346.2 L265.4,349.2 L266.4,351.4 L265.4,354.1 L266.6,356.5 L265.8,359.7 L267.0,361.7 L266.7,365.0 L267.5,362.6 L266.7,360.3 L268.2,357.5 L267.3,355.9 L268.0,353.0 L267.5,355.4 L268.9,358.8 L267.9,361.4 L268.8,364.1 L268.1,365.9 L269.4,369.0 L268.1,371.9 L269.6,374.1 L268.3,376.3 L269.9,379.6 L269.0,382.4 L269.9,384.7 L268.9,387.0 L270.1,390.1 L269.5,392.7 L270.6,395.2 L269.7,398.3 L270.8,400.8 L269.8,403.7 L271.0,405.4 L270.1,408.0 L270.9,410.9 L270.1,414.2 L271.2,416.0 L271.0,419.0 L271.7,416.9 L270.9,414.3 L271.9,412.0 L271.6,408.9 L272.8,406.6 L272.0,403.9 L273.0,400.6 L272.4,398.4 L273.6,395.9 L272.7,393.7 L273.8,390.6 L273.1,388.4 L274.2,385.5 L273.5,383.4 L274.8,380.5 L273.9,378.4 L275.5,375.6 L274.7,373.0 L275.6,370.8 L275.1,368.4 L276.2,365.5 L276.0,363.0 L276.7,365.9 L276.0,368.1 L277.0,370.4 L276.5,373.2 L277.4,375.5 L276.7,377.6 L277.5,380.0 L276.9,377.2 L278.4,375.0 L277.5,371.7 L278.5,369.4 L277.8,367.5 L278.8,364.7 L278.0,361.5 L279.1,358.8 L278.2,356.3 L279.0,354.0 L278.8,356.4 L280.1,359.6 L279.1,361.9 L280.1,364.9 L279.7,366.9 L280.6,369.8 L279.8,372.1 L281.3,375.3 L280.6,377.6 L281.0,380.0 L281.1,377.1 L282.7,374.6 L282.2,372.0 L284.1,370.1 L284.0,366.7 L283.8,363.8 L285.6,361.8 L284.9,359.4 L286.3,356.3 L286.1,353.8 L287.3,351.8 L287.2,348.3 L288.3,345.9 L287.9,342.8 L289.3,341.0 L289.0,338.4 L290.4,336.0 L290.5,333.0 L290.5,330.6 L292.0,327.9 L292.0,325.7 L293.6,323.5 L293.2,320.0 L294.5,317.9 L294.4,315.5 L295.6,312.7 L295.5,310.1 L296.7,307.1 L297.0,305.0 L296.6,302.3 L297.8,299.9 L296.8,297.2 L297.7,295.2 L296.9,292.8 L298.2,290.0 L297.6,288.0 L297.0,285.0 L298.4,282.9 L297.3,280.4 L298.5,278.2 L297.4,274.5 L298.2,272.9 L297.4,270.2 L298.4,267.4 L297.9,264.3 L298.5,262.8 L297.7,260.0 L298.5,256.9 L298.1,254.2 L298.7,252.4 L298.0,249.3 L298.5,246.7 L298.2,249.8 L299.7,252.0 L298.8,255.1 L299.9,256.9 L299.1,259.6 L300.4,262.4 L299.8,265.0 L300.9,267.6 L300.5,270.8 L301.0,273.0 L300.8,270.4 L301.7,267.7 L300.9,264.7 L301.8,262.4 L301.0,259.7 L302.1,257.5 L301.4,254.8 L302.4,251.7 L301.3,250.2 L302.3,247.2 L301.6,244.3 L302.6,242.1 L301.8,239.3 L302.7,237.1 L302.1,233.7 L302.8,231.3 L302.5,229.0 L303.2,231.5 L301.9,234.1 L302.9,237.1 L302.3,240.0 L303.3,241.9 L302.2,245.1 L303.3,247.5 L302.4,250.2 L302.9,252.7 L302.2,255.6 L303.3,257.2 L302.0,260.7 L303.3,262.4 L302.2,265.5 L303.4,268.8 L302.1,270.3 L303.5,273.3 L302.3,275.9 L303.4,278.6 L302.6,281.0 L303.5,283.3 L302.7,286.9 L303.6,289.1 L303.0,291.7 L303.4,288.6 L302.8,287.0 L303.8,284.3 L303.1,281.1 L304.0,279.0 L303.3,276.3 L304.2,272.7 L303.4,270.5 L304.5,268.6 L303.6,265.6 L304.6,263.1 L304.0,260.4 L304.7,257.6 L304.1,254.7 L304.9,252.1 L304.1,249.6 L305.2,247.1 L304.2,244.1 L305.0,241.7 L304.6,244.3 L306.1,246.7 L304.9,249.3 L306.0,252.5 L305.3,254.6 L306.3,257.9 L305.8,260.4 L306.8,262.9 L306.0,266.0 L306.7,268.0 L306.3,265.2 L307.9,262.4 L307.1,259.4 L308.4,257.7 L308.2,254.8 L309.3,252.0 L308.7,248.7 L310.2,246.9 L309.1,243.3 L310.7,240.9 L310.1,238.5 L310.8,235.8 L310.4,238.1 L311.8,241.3 L310.6,244.5 L312.1,246.5 L310.9,249.7 L312.2,252.5 L311.4,254.6 L312.5,257.0 L311.8,260.0 L312.5,263.0 L313.0,265.2 L312.5,268.1 L313.4,270.3 L312.8,273.2 L314.0,275.2 L312.8,278.7 L314.2,280.8 L313.2,283.3 L314.0,285.8 L313.6,283.7 L315.0,280.4 L314.3,278.6 L315.2,275.9 L314.6,272.9 L315.6,270.8 L314.6,267.9 L316.1,265.2 L315.4,263.3 L316.2,260.8 L315.6,257.1 L317.0,254.7 L316.0,252.1 L316.7,250.0 L317.6,247.3 L316.3,244.4 L317.8,242.0 L317.1,240.1 L318.3,237.8 L317.0,235.3 L318.3,232.0 L318.0,230.0 L317.8,227.0 L319.1,224.8 L318.4,221.9 L319.7,219.7 L318.9,216.6 L320.2,214.8 L319.3,212.1 L320.6,209.3 L320.2,207.1 L321.6,205.0 L320.4,202.3 L322.1,199.9 L321.7,196.7 L321.3,193.9 L322.0,191.3 L320.8,188.5 L321.9,185.0 L320.6,183.4 L321.0,180.0 L321.6,177.0 L321.1,175.2 L322.4,171.6 L321.9,169.7 L323.4,167.1 L322.7,164.6 L323.7,161.7 L323.6,163.7 L324.6,167.3 L323.4,169.3 L324.6,171.7 L324.1,174.8 L324.9,177.1 L324.1,179.4 L325.4,182.0 L324.6,185.1 L325.4,186.7 L324.8,189.7 L326.0,192.0 L325.1,195.0 L326.0,197.4 L325.4,200.4 L326.2,202.1 L326.0,205.0 L326.5,202.3 L325.7,200.0 L327.1,197.4 L326.3,195.1 L327.1,191.9 L326.5,190.2 L327.5,186.9 L326.5,185.1 L327.8,181.5 L326.9,179.7 L328.1,177.2 L327.4,174.0 L328.0,171.7 L327.7,174.5 L329.0,177.0 L328.5,179.2 L329.4,181.1 L328.5,183.8 L329.8,187.1 L329.0,189.8 L330.0,191.7 L329.7,189.6 L330.6,186.8 L329.7,183.5 L330.8,181.6 L330.0,179.0 L331.5,176.1 L330.5,173.1 L331.4,171.5 L330.9,168.0 L331.7,165.3 L331.1,162.8 L331.9,160.7 L331.2,158.1 L332.5,155.5 L331.3,152.3 L332.4,149.8 L331.8,148.0 L333.1,145.1 L332.5,142.5 L332.9,144.9 L332.2,147.6 L333.5,151.0 L332.6,153.3 L333.9,155.7 L333.0,159.0 L334.2,160.5 L333.0,163.6 L334.0,166.0 L333.5,169.3 L334.0,171.7 L334.3,173.8 L333.7,177.4 L334.5,179.8 L333.5,181.9 L334.2,184.7 L333.8,187.3 L334.5,190.1 L333.5,193.0 L334.4,195.4 L333.3,198.3 L334.4,200.9 L333.5,203.3 L334.7,205.8 L333.3,209.2 L334.7,211.0 L333.5,214.7 L334.4,216.4 L333.4,219.1 L334.5,221.6 L333.3,224.4 L334.3,227.6 L334.0,230.0 L333.8,232.7 L334.9,235.7 L334.2,237.8 L335.1,240.5 L334.8,243.3 L335.9,245.8 L335.3,248.5 L336.3,251.3 L335.3,253.6 L336.7,255.9 L335.8,258.8 L336.7,261.7 L336.1,259.5 L337.2,257.1 L336.5,253.9 L337.6,252.1 L336.7,248.9 L337.6,246.8 L336.9,243.6 L337.8,241.0 L336.9,239.1 L338.4,236.7 L337.1,234.0 L338.4,231.5 L337.3,228.1 L338.0,226.0 L338.9,228.1 L340.8,230.0 L341.2,233.0 L340.7,235.0 L341.5,237.8 L340.6,240.5 L342.0,242.6 L341.1,245.2 L341.7,248.1 L340.8,249.8 L341.9,252.7 L341.7,255.0 L342.7,252.9 L342.0,248.9 L343.0,246.7 L342.5,248.9 L343.9,252.3 L342.7,255.2 L344.0,257.9 L343.0,260.1 L344.1,262.6 L343.5,265.0 L344.5,267.8 L344.0,270.8 L345.4,268.4 L345.8,265.0 L346.5,267.5 L345.6,269.7 L346.3,272.7 L345.5,275.5 L346.6,278.0 L345.5,279.8 L347.0,282.6 L345.7,285.4 L346.9,287.2 L346.1,290.0 L346.9,292.9 L346.7,295.0 L346.2,297.5 L347.4,299.8 L346.5,302.8 L347.3,305.0 L346.7,307.2 L347.4,310.3 L346.3,313.0 L347.5,315.3 L346.8,317.9 L347.9,320.0 L346.8,323.3 L347.9,325.7 L346.8,328.7 L348.1,330.4 L346.9,333.9 L347.5,335.8 L350.0,335.0 L349.7,331.9 L351.0,329.1 L350.2,326.9 L351.0,324.5 L350.2,321.2 L351.6,319.0 L350.6,316.0 L351.8,313.0 L351.1,311.2 L351.7,308.0 L351.2,309.9 L352.3,312.6 L351.7,315.3 L352.7,317.6 L352.1,320.5 L353.2,322.7 L353.0,325.0 L355.8,325.0 L356.7,322.8 L356.2,320.4 L357.1,317.3 L356.7,314.8 L357.5,313.0 L359.1,311.4 L359.9,308.9 L361.7,308.0 L362.5,305.9 L361.4,302.9 L362.4,300.9 L361.9,297.5 L362.6,295.6 L361.9,292.4 L362.5,290.0 L363.0,287.7 L362.3,284.9 L363.3,281.7 L362.4,278.9 L363.3,276.1 L362.4,273.4 L363.0,270.8 L362.9,273.9 L364.1,276.1 L363.3,278.9 L364.7,282.0 L363.8,284.7 L365.3,287.1 L364.6,289.4 L366.1,292.8 L365.8,295.0 L365.4,298.0 L366.6,300.7 L365.9,303.7 L366.9,306.7 L366.1,309.2 L366.7,311.7 L366.5,309.1 L367.5,306.4 L366.4,303.9 L367.4,302.3 L366.7,299.7 L367.4,296.8 L366.5,294.6 L367.7,291.8 L366.7,289.5 L368.0,286.8 L367.1,284.4 L367.5,281.7 L368.8,279.0 L368.5,275.3 L370.0,273.0 L369.5,275.5 L370.8,278.9 L370.0,281.1 L371.0,283.7 L370.3,286.5 L371.4,289.2 L370.8,291.7 L371.8,289.8 L371.7,286.5 L373.2,284.8 L372.9,282.8 L374.0,280.0 L375.1,278.2 L374.8,275.2 L376.0,272.3 L375.8,270.1 L377.6,267.5 L377.5,265.0 L378.5,267.2 L378.3,269.6 L379.8,272.6 L380.0,275.0 L379.7,277.3 L380.7,280.5 L379.6,282.1 L380.3,284.5 L379.4,287.8 L380.4,290.0 L379.4,291.9 L380.0,295.0 L380.8,298.0 L379.9,300.5 L381.0,302.7 L379.9,305.3 L381.2,308.0 L380.4,311.2 L381.5,313.6 L380.4,315.8 L381.6,318.9 L381.1,322.0 L382.0,324.0 L381.7,326.7 L382.7,324.7 L382.1,321.8 L383.7,319.1 L383.3,316.2 L385.1,314.8 L385.0,311.7 L385.8,314.2 L385.7,317.5 L386.7,320.0 L386.7,323.0 L388.0,325.3 L388.0,328.0 L388.6,325.0 L388.2,323.5 L389.4,321.0 L388.9,317.5 L389.6,315.8 L389.4,312.7 L390.5,310.8 L389.8,307.9 L390.9,305.6 L390.8,303.0 L391.5,305.4 L390.9,308.1 L391.9,310.3 L391.4,313.7 L392.4,315.7 L391.6,318.8 L393.0,321.2 L392.1,324.4 L393.0,326.7 L392.7,324.1 L394.1,321.3 L393.3,318.4 L394.5,315.9 L393.7,313.1 L395.1,311.0 L394.4,307.1 L395.0,305.0 L396.1,302.0 L395.9,300.0 L397.6,297.2 L398.0,295.0 L397.7,292.8 L399.3,290.3 L398.4,287.4 L399.8,285.1 L399.1,283.0 L400.8,280.5 L400.2,277.2 L400.8,275.0 L401.7,272.6 L400.6,269.7 L402.0,267.6 L400.7,264.4 L402.4,262.0 L401.5,259.8 L402.5,257.1 L401.6,255.5 L402.8,252.8 L402.5,250.0 L403.2,252.7 L402.4,255.3 L403.6,258.1 L402.7,260.5 L403.6,263.0 L402.7,266.0 L403.6,268.1 L402.9,270.8 L403.9,274.1 L403.4,277.0 L404.4,278.6 L404.0,281.7 L404.8,278.7 L403.8,276.5 L405.3,273.1 L404.7,271.2 L405.4,267.8 L405.1,265.0 L406.0,263.3 L405.8,260.0 L405.5,257.1 L406.7,254.5 L405.5,252.3 L406.9,249.1 L405.8,246.9 L407.1,244.2 L405.9,241.5 L407.1,239.9 L406.3,236.4 L407.5,234.3 L406.6,231.1 L407.3,228.7 L406.4,226.5 L407.9,224.0 L406.7,221.0 L408.0,218.6 L407.2,215.9 L408.0,213.4 L407.4,210.2 L408.5,208.1 L407.5,205.2 L408.0,203.0 L407.6,206.2 L408.7,208.2 L408.0,211.2 L409.2,213.2 L408.6,216.4 L409.3,219.2 L409.0,221.0 L409.9,224.4 L409.0,227.0 L410.4,229.5 L409.7,232.3 L410.4,234.1 L410.0,236.6 L411.1,239.6 L410.4,241.8 L410.8,245.0 L410.2,242.6 L411.7,239.5 L410.8,237.2 L411.5,234.5 L410.9,232.7 L411.7,229.6 L410.9,227.3 L411.8,225.1 L411.1,222.3 L411.7,220.0 L413.2,217.1 L413.4,214.4 L415.0,212.5 L414.6,214.6 L415.7,217.9 L414.7,220.5 L415.8,222.6 L414.7,225.9 L415.6,228.6 L414.5,230.4 L415.6,233.4 L414.6,236.6 L415.9,239.4 L415.0,241.4 L416.0,244.5 L415.1,247.4 L416.0,249.9 L415.0,252.2 L416.2,255.2 L414.9,257.8 L415.5,260.0 L416.3,262.9 L415.0,265.6 L415.9,267.4 L415.1,269.6 L416.3,272.0 L415.1,274.7 L416.1,277.6 L415.4,279.9 L416.4,283.1 L415.4,284.8 L416.4,287.1 L415.8,290.0 L416.7,287.3 L415.8,284.9 L416.8,282.1 L416.6,280.0 L417.4,278.4 L416.7,274.8 L418.1,272.6 L417.3,270.7 L418.0,268.0 L417.5,271.1 L418.7,272.8 L417.9,275.3 L419.1,277.9 L418.0,280.1 L419.4,283.5 L418.5,285.7 L419.0,288.0 L419.6,289.8 L419.1,292.5 L420.4,295.3 L419.5,298.3 L420.5,299.6 L420.3,302.5 L420.8,305.0 L420.6,302.5 L422.2,300.2 L421.7,296.5 L423.1,293.9 L423.0,291.7 L423.3,293.6 L422.7,296.2 L423.5,298.8 L422.5,302.1 L423.4,303.7 L423.0,306.7 L424.1,304.4 L423.3,301.3 L425.0,299.2 L424.4,296.5 L425.9,293.7 L425.5,290.5 L426.7,288.0 L426.6,285.4 L428.0,282.8 L428.0,280.0 L428.7,281.9 L428.3,285.0 L429.9,287.2 L429.2,289.4 L430.0,291.7 L429.9,289.3 L431.1,286.8 L430.6,283.3 L431.9,280.6 L431.0,277.3 L432.6,274.8 L432.5,272.5 L433.4,274.6 L432.7,277.5 L433.9,280.4 L433.1,282.5 L434.3,285.6 L433.8,287.2 L435.1,290.2 L434.4,292.4 L435.7,295.6 L435.0,298.2 L435.9,300.4 L435.8,303.0 L436.6,300.0 L435.7,297.6 L437.0,295.7 L436.7,292.2 L437.8,290.3 L436.9,288.0 L438.2,284.7 L437.6,282.5 L438.8,280.6 L438.4,277.7 L439.0,275.0 L439.0,278.1 L440.2,280.2 L439.4,283.0 L440.7,285.6 L440.0,287.9 L440.8,290.5 L440.8,293.0 L442.1,291.0 L441.7,287.8 L443.1,284.9 L442.8,282.8 L444.0,280.0 L443.8,282.5 L444.9,285.3 L444.0,287.2 L444.9,289.8 L444.2,292.8 L445.5,295.1 L444.7,297.5 L446.0,300.4 L445.2,303.2 L446.2,305.6 L445.8,308.0 L445.6,311.0 L447.3,314.0 L446.6,316.5 L447.5,319.0 L447.5,316.2 L448.7,313.9 L448.3,310.8 L449.8,308.8 L449.0,306.0 L450.0,303.0 L450.9,300.6 L450.6,297.4 L451.8,295.4 L451.3,292.0 L452.9,289.3 L452.7,287.1 L454.2,284.0 L454.0,281.7 L455.2,284.7 L455.5,287.8 L456.7,290.0 L456.8,287.2 L457.9,284.5 L457.6,281.7 L459.1,278.9 L459.0,276.7 L459.0,274.5 L460.4,271.6 L460.2,268.9 L461.6,267.4 L461.3,264.6 L462.5,262.2 L462.3,259.8 L463.0,257.5 L463.0,260.8 L464.2,263.3 L463.6,265.8 L464.9,268.6 L464.8,271.1 L465.7,273.1 L465.4,276.0 L467.0,279.0 L466.7,281.7 L468.2,280.0 L467.8,276.7 L469.6,274.7 L470.0,271.7 L470.9,273.8 L470.2,276.8 L471.5,279.7 L470.8,282.2 L472.3,285.0 L471.7,286.8 L472.6,289.4 L471.9,292.3 L473.0,295.0 L473.9,297.4 L473.4,299.8 L475.0,302.2 L474.2,305.5 L475.6,307.5 L475.8,310.0 L475.7,313.1 L476.5,314.9 L475.8,317.9 L477.3,320.2 L476.4,322.6 L477.6,325.1 L476.8,327.6 L477.9,330.3 L477.3,333.4 L478.0,335.8 L478.1,333.8 L479.2,330.6 L478.6,328.5 L479.9,325.3 L478.8,323.4 L480.4,320.3 L480.0,318.0 L481.8,315.9 L484.0,315.0 L485.0,313.1 L484.7,309.8 L486.3,307.4 L486.3,305.1 L487.9,303.0 L488.0,300.0 L489.4,302.0 L489.4,304.5 L490.8,306.7 L491.6,309.4 L490.9,311.6 L492.4,313.7 L492.0,316.6 L493.0,318.6 L493.0,321.7 L493.8,319.1 L493.4,316.9 L494.8,313.9 L494.7,311.3 L495.9,309.2 L495.5,306.3 L496.7,304.0 L496.7,306.2 L497.6,309.5 L497.3,312.1 L498.7,313.8 L498.0,316.8 L499.3,319.8 L498.6,322.2 L499.7,324.7 L499.0,327.2 L500.0,330.0 L501.0,328.4 L503.0,326.7 L502.9,330.1 L504.6,331.6 L503.7,334.6 L505.5,337.0 L505.0,340.3 L505.8,343.0 L506.6,345.7 L505.6,348.5 L506.7,350.5 L505.9,352.8 L506.6,355.4 L505.6,358.1 L507.1,360.0 L506.2,363.3 L507.0,365.2 L506.7,368.0 L507.3,364.9 L507.0,362.9 L508.2,360.5 L507.8,357.1 L509.1,355.1 L508.4,352.5 L509.6,349.6 L509.3,347.3 L510.0,345.0 L510.0,347.2 L511.1,349.8 L510.3,353.0 L511.7,355.8 L511.3,358.1 L512.5,361.3 L511.7,363.9 L512.5,366.7 L512.5,364.1 L514.4,362.3 L513.7,359.3 L515.0,356.7 L514.5,359.3 L515.7,362.1 L514.8,365.1 L516.1,366.8 L514.9,370.2 L516.2,373.2 L515.5,375.3 L516.3,378.6 L515.7,380.8 L516.4,383.7 L515.8,386.3 L516.7,389.1 L516.2,391.0 L517.2,394.5 L516.7,396.7 L516.7,399.1 L518.1,401.9 L517.8,403.8 L519.0,406.7 L519.0,403.8 L520.6,401.3 L520.7,397.9 L522.5,396.4 L522.5,393.0 L523.1,395.6 L522.8,398.6 L523.9,400.8 L523.5,403.7 L524.7,406.4 L523.9,409.6 L525.0,411.7 L526.1,414.7 L525.5,416.9 L526.7,420.0 L526.1,422.5 L527.8,424.9 L527.5,428.0 L528.1,424.8 L528.0,422.8 L529.4,419.4 L528.8,416.8 L530.2,415.0 L530.0,411.7 L529.8,408.7 L531.1,407.3 L529.9,404.1 L531.3,402.1 L530.4,398.9 L531.5,396.9 L530.8,394.3 L531.7,392.3 L531.2,388.8 L531.7,386.7 L532.6,384.5 L531.4,381.5 L533.0,378.8 L532.0,375.0 L533.4,373.2 L533.0,370.0 L534.1,371.7 L533.5,375.1 L534.7,377.5 L533.9,379.6 L535.6,382.0 L534.8,384.3 L535.8,386.7 L535.5,383.4 L537.0,381.7 L535.9,378.5 L537.1,375.9 L536.4,373.3 L537.5,370.0 L537.1,367.5 L538.1,364.9 L538.0,362.5 L540.8,362.5 L541.3,365.4 L540.3,368.1 L541.3,371.0 L540.7,373.6 L541.8,375.7 L541.0,378.1 L542.1,380.8 L541.0,384.5 L541.7,386.7 L542.8,389.2 L542.2,392.4 L544.1,394.6 L544.0,396.7 L543.7,398.7 L544.9,401.8 L543.9,404.4 L545.1,406.1 L544.2,409.4 L545.8,411.8 L544.6,414.6 L546.2,416.6 L544.9,419.1 L545.8,421.7 L545.8,418.9 L546.7,417.3 L546.1,413.8 L547.4,411.2 L546.6,408.9 L547.5,406.7 L547.5,404.0 L548.3,407.0 L547.7,410.1 L548.8,412.2 L548.4,414.4 L549.4,418.1 L549.0,420.4 L550.2,422.7 L550.0,425.8 L550.9,422.8 L550.3,420.3 L551.7,418.5 L550.9,415.5 L552.5,413.3 L551.9,409.9 L553.2,408.3 L552.2,405.4 L553.6,402.8 L553.1,400.1 L554.0,397.5 L554.0,400.7 L555.1,402.3 L554.2,405.2 L555.5,408.0 L555.1,410.1 L555.8,413.0 L556.4,415.8 L555.8,418.6 L557.2,421.6 L556.0,424.4 L557.3,426.9 L556.8,429.3 L557.6,431.4 L556.8,434.2 L558.4,437.3 L558.0,440.0 L558.1,442.9 L558.9,445.4 L558.4,447.6 L559.8,449.4 L559.1,452.0 L560.0,455.0 L559.9,452.9 L561.4,449.6 L560.7,447.6 L562.1,445.4 L561.6,442.3 L562.5,440.0 L563.4,437.2 L562.9,435.2 L564.0,432.6 L563.6,429.2 L564.6,427.6 L564.1,425.0 L565.6,421.4 L565.1,418.7 L565.8,416.7 L565.5,419.5 L567.0,421.6 L566.1,424.1 L567.0,426.4 L566.4,429.5 L567.5,432.7 L567.0,435.2 L568.1,436.8 L567.5,440.1 L568.0,442.5 L567.7,439.2 L569.3,436.9 L568.4,434.8 L569.9,431.5 L569.4,429.6 L570.7,427.0 L569.8,423.1 L571.1,421.6 L570.8,418.1 L571.6,416.2 L571.7,413.0 L571.8,409.9 L573.2,407.7 L572.9,405.5 L574.5,402.6 L574.0,399.9 L575.0,398.0 L575.7,395.9 L575.1,393.4 L576.1,390.4 L575.4,387.3 L576.8,385.6 L575.9,383.5 L577.3,380.2 L576.7,377.9 L577.6,375.6 L577.5,373.0 L577.6,370.6 L578.7,367.4 L578.3,365.8 L579.6,363.3 L578.9,360.7 L580.0,358.0 L579.4,354.7 L580.7,352.1 L580.8,350.0 L581.5,352.9 L581.2,355.2 L582.5,357.8 L582.3,359.9 L583.6,362.9 L582.9,365.9 L584.0,368.0 L584.7,370.2 L584.6,373.0 L585.6,375.9 L585.2,378.5 L586.7,380.9 L586.7,383.0 L587.5,380.9 L586.3,377.5 L587.4,374.9 L586.5,372.8 L588.0,370.1 L586.9,368.2 L588.2,365.5 L586.9,363.1 L588.0,360.3 L587.5,357.8 L588.6,355.1 L588.0,352.5 L588.5,355.1 L588.1,357.5 L588.8,359.9 L588.1,362.8 L589.6,364.9 L588.6,367.0 L589.9,370.0 L589.0,372.1 L590.1,374.4 L589.5,377.0 L590.0,380.0 L589.8,376.9 L591.1,374.8 L589.9,372.0 L591.1,369.1 L590.3,366.7 L591.8,364.2 L591.2,361.0 L592.1,359.1 L591.1,356.1 L592.4,352.8 L591.7,350.5 L593.1,347.7 L592.3,344.7 L593.0,343.1 L593.0,340.0 L592.7,337.0 L593.8,335.0 L595.6,332.7 L597.0,330.0 L597.4,332.7 L596.5,335.5 L597.6,338.0 L597.0,340.8 L597.8,343.5 L597.0,346.2 L598.0,348.8 L597.2,350.6 L598.4,353.3 L597.6,355.6 L598.0,358.8 L597.7,355.7 L598.8,353.8 L598.6,351.0 L599.5,347.9 L598.7,345.7 L600.4,343.3 L600.0,340.0 L601.2,342.9 L600.8,345.2 L602.0,347.5 L601.8,344.8 L602.9,342.2 L602.0,340.4 L603.4,337.2 L602.7,334.8 L603.6,333.0 L602.9,330.0 L604.1,327.6 L603.8,325.0 L604.6,327.5 L603.9,329.7 L605.0,332.4 L604.3,335.6 L605.7,337.5 L605.6,340.0 L606.7,337.3 L606.5,334.8 L607.7,331.5 L608.0,329.0 L609.0,331.0 L609.0,333.5 L610.4,335.8 L610.6,338.8 L612.1,336.6 L612.5,333.8 L613.4,336.5 L612.6,339.2 L613.9,342.4 L613.8,345.0 L614.4,342.8 L613.8,340.5 L615.2,337.6 L614.4,334.7 L615.7,332.5 L615.6,330.0 L615.3,327.7 L616.5,325.6 L615.7,322.4 L617.5,320.2 L617.0,317.5 L616.9,314.3 L617.9,312.3 L617.4,309.5 L619.0,306.8 L618.1,304.2 L619.6,301.6 L619.4,298.8 L619.7,295.9 L621.4,293.6 L622.0,290.6 L622.9,292.9 L621.9,295.5 L623.2,297.9 L622.8,299.9 L624.2,302.3 L623.2,304.8 L624.6,308.1 L624.4,310.0 L625.0,307.7 L624.9,305.0 L626.2,301.8 L625.3,298.9 L626.2,296.2 L626.1,298.6 L627.1,301.7 L626.6,303.8 L627.6,306.3 L626.7,308.9 L627.5,311.2 L628.1,314.4 L627.3,316.3 L628.5,319.6 L627.9,322.1 L628.8,324.2 L628.1,326.9 L629.0,329.7 L628.8,332.5 L630.5,330.0 L631.2,327.5 L632.0,329.9 L631.0,332.9 L632.2,335.5 L631.6,337.3 L632.6,340.2 L632.0,342.8 L633.1,345.4 L632.6,348.0 L633.6,349.8 L632.8,352.6 L634.1,355.0 L633.8,357.5 L634.6,355.3 L633.8,353.1 L634.4,349.5 L633.7,347.2 L634.8,344.6 L634.2,342.9 L635.1,339.6 L634.8,336.9 L635.5,335.0 L634.6,332.6 L636.1,330.2 L635.6,327.5 L636.5,330.1 L635.7,332.4 L636.7,334.5 L635.8,337.5 L637.0,340.0 L636.3,342.3 L637.7,344.5 L637.0,347.2 L638.1,350.2 L637.4,352.8 L638.0,355.0 L637.7,352.6 L639.1,349.6 L637.9,347.0 L639.3,344.2 L638.7,342.0 L639.5,338.7 L639.1,336.7 L639.9,333.7 L639.2,331.3 L640.0,328.8 L639.9,331.7 L641.2,334.3 L640.3,337.1 L641.6,340.1 L641.2,342.5 L640.9,344.9 L642.4,347.2 L641.7,350.4 L642.6,353.0 L642.1,356.2 L643.2,358.6 L642.3,360.9 L643.9,363.4 L643.1,365.7 L643.8,368.8 L643.5,366.7 L645.0,363.6 L644.3,361.0 L645.6,359.1 L645.3,356.2 L646.4,353.4 L646.2,351.2 L647.0,353.6 L646.1,356.3 L647.3,359.0 L646.3,361.8 L647.7,364.5 L647.0,367.1 L647.8,369.5 L646.9,372.4 L647.8,375.0 L647.3,372.0 L648.7,369.6 L648.0,367.0 L648.8,365.5 L648.0,362.3 L649.2,360.3 L648.6,356.9 L650.0,354.5 L649.2,352.8 L650.4,349.7 L650.0,347.5 L649.8,345.1 L651.0,342.1 L650.4,338.7 L651.3,336.6 L651.2,333.8 L652.2,336.1 L651.6,338.9 L653.1,341.0 L653.0,343.8 L653.9,341.1 L652.9,338.8 L654.5,335.9 L653.5,332.8 L654.4,330.0 L655.4,327.5 L655.1,325.4 L656.2,323.8 L656.9,321.3 L655.9,318.6 L656.8,316.0 L656.0,314.2 L657.0,311.0 L656.3,308.7 L657.4,306.6 L656.9,303.8 L658.3,302.1 L660.6,300.6 L660.1,303.8 L661.3,305.7 L660.5,308.1 L661.8,310.8 L660.8,313.5 L661.9,315.4 L661.2,318.6 L662.5,320.7 L661.9,323.8 L663.2,321.7 L662.5,317.8 L664.0,316.0 L664.1,312.5 L665.0,310.0 L664.3,312.7 L665.8,315.4 L664.8,317.5 L665.5,319.8 L664.8,322.9 L665.7,325.2 L665.1,327.2 L665.7,330.1 L665.0,332.8 L666.0,335.5 L665.6,337.5 L666.6,335.0 L665.7,331.6 L667.2,329.5 L666.7,327.1 L668.2,323.5 L668.0,321.2 L669.0,323.9 L668.1,327.2 L669.3,330.0 L668.4,332.2 L669.6,335.1 L669.4,338.0 L670.6,335.6 L670.7,332.4 L672.0,329.6 L672.5,327.5 L673.4,330.2 L672.9,333.1 L674.3,335.1 L673.8,338.0 L675.0,340.3 L674.6,343.1 L675.4,345.0 L674.9,342.1 L676.3,339.6 L675.3,337.3 L676.3,334.9 L675.7,332.4 L676.4,330.4 L676.2,327.5 L676.0,325.0 L677.1,322.7 L676.2,319.6 L677.7,317.2 L676.6,313.8 L677.5,311.2 L677.6,313.4 L679.2,315.9 L679.4,318.8 L680.3,315.7 L679.4,313.2 L680.8,311.3 L680.0,308.8 L681.3,306.5 L680.9,303.8 L682.0,301.9 L681.9,298.8 L681.9,295.6 L683.2,293.7 L682.9,289.9 L683.8,287.5 L684.4,285.2 L683.4,281.9 L684.7,280.3 L684.0,277.7 L685.2,274.6 L684.6,272.1 L685.0,270.0 L685.0,272.0 L686.1,274.2 L685.8,277.1 L687.0,278.9 L686.7,281.7 L687.2,279.3 L686.9,275.9 L687.9,273.4 L687.1,270.9 L688.5,268.2 L688.0,265.9 L688.9,263.3 L688.5,260.1 L689.0,257.5 L691.7,256.7 L691.4,259.0 L692.4,262.6 L691.6,265.5 L693.1,267.8 L692.2,270.3 L693.0,273.0 L693.4,270.3 L694.8,267.7 L694.9,264.2 L695.8,261.7 L695.8,264.7 L696.8,266.6 L695.9,269.6 L697.1,272.0 L696.8,274.3 L697.5,277.9 L697.5,280.0 L698.4,277.7 L697.2,275.1 L698.7,272.3 L697.9,270.4 L699.0,268.1 L698.4,265.6 L699.0,263.0 L698.9,265.7 L699.9,268.3 L699.4,270.7 L700.5,273.2 L699.7,277.0 L700.9,279.2 L699.9,282.3 L701.2,284.2 L700.4,286.5 L701.7,289.4 L701.0,292.7 L701.7,295.0 L701.3,292.4 L702.8,289.4 L701.9,287.7 L703.3,284.7 L702.5,281.9 L703.6,279.1 L702.8,276.8 L704.0,274.5 L704.0,271.7 L703.9,269.0 L705.4,266.8 L705.3,263.4 L706.6,260.4 L706.7,258.0 L707.3,260.1 L706.8,262.5 L707.9,265.7 L707.2,268.6 L708.2,270.4 L708.0,273.0 L709.4,271.1 L709.0,268.7 L710.7,266.2 L710.8,264.0 L711.4,266.8 L710.8,269.3 L712.0,271.8 L711.7,274.5 L712.9,276.7 L712.4,279.0 L713.0,281.7 L712.7,278.5 L713.8,276.3 L713.2,273.8 L714.5,270.5 L713.8,268.7 L715.3,265.4 L715.0,263.0 L714.5,259.9 L715.6,257.8 L714.8,254.9 L716.0,253.3 L715.2,250.2 L716.3,248.4 L715.4,245.9 L716.9,242.5 L715.9,240.6 L717.3,238.4 L716.3,236.0 L717.0,233.0 L716.7,235.5 L718.0,238.3 L717.1,241.1 L718.2,243.4 L717.3,245.4 L718.4,248.1 L717.9,251.1 L719.1,253.2 L718.2,255.2 L719.0,258.0 L720.2,260.3 L720.0,262.8 L721.4,265.7 L721.7,268.0 L721.4,270.5 L722.5,273.6 L721.8,276.4 L723.4,277.9 L722.6,281.2 L723.6,284.2 L723.2,285.9 L724.2,288.5 L724.0,291.7 L724.1,294.4 L725.1,296.9 L724.6,299.6 L725.7,301.8 L725.2,304.3 L726.3,307.0 L725.6,310.1 L726.8,312.5 L726.7,315.0 L727.2,312.7 L726.7,309.9 L727.7,307.6 L726.8,305.1 L728.2,302.4 L727.2,299.2 L728.3,296.5 L727.5,293.8 L728.0,291.7 L728.5,294.3 L730.0,296.7 L729.4,294.4 L730.6,291.3 L729.8,288.3 L730.6,286.7 L730.0,283.0 L731.2,280.8 L729.9,278.3 L731.3,275.2 L730.2,273.3 L731.0,271.0 L730.4,268.1 L731.1,264.7 L730.7,263.0 L731.0,260.0 L730.6,263.1 L732.2,264.4 L731.4,267.6 L733.0,270.1 L732.1,272.2 L733.0,275.0 L733.7,276.8 L733.4,279.6 L734.9,281.5 L734.0,284.2 L735.3,287.4 L735.1,289.5 L735.8,291.7 L735.6,288.8 L736.9,285.8 L736.2,283.3 L737.7,281.2 L737.5,278.0 L739.3,279.6 L740.8,281.7 L740.5,284.9 L741.6,286.6 L740.7,289.1 L741.7,291.8 L741.1,295.0 L742.0,297.3 L741.1,300.1 L741.7,303.0 L742.5,304.8 L741.5,307.9 L742.8,310.0 L742.2,312.3 L743.7,314.8 L742.8,317.2 L744.0,320.6 L743.4,322.2 L744.0,325.0 L744.1,322.3 L745.5,319.2 L745.8,316.7 L746.6,318.8 L746.0,322.0 L747.1,324.5 L746.0,326.4 L747.3,329.3 L746.6,331.9 L747.9,333.8 L747.2,336.2 L748.0,339.3 L748.0,341.7 L748.8,339.5 L748.4,335.6 L750.4,333.8 L750.0,330.6 L750.8,328.0 L750.5,330.2 L751.3,332.5 L751.0,335.2 L751.8,337.4 L750.7,340.6 L752.1,342.9 L751.7,345.0 L752.3,342.8 L751.4,339.8 L752.8,337.4 L752.0,334.9 L752.8,332.8 L752.3,330.0 L753.5,327.7 L753.0,325.0 L753.9,327.7 L752.9,330.4 L754.3,333.0 L753.5,335.4 L754.7,337.7 L753.8,340.0 L755.0,342.7 L754.6,345.6 L755.8,347.1 L755.1,350.5 L756.1,353.0 L755.5,355.0 L756.8,358.4 L756.2,360.6 L756.7,363.0 L756.5,360.4 L757.8,357.8 L757.0,355.5 L758.5,352.9 L757.8,350.1 L759.4,346.8 L758.7,344.2 L760.0,342.6 L759.3,339.3 L760.0,336.7 L759.5,339.6 L760.8,342.4 L759.7,344.1 L761.3,346.8 L760.2,350.1 L761.2,352.1 L760.3,355.3 L761.9,357.0 L760.7,360.5 L762.1,363.0 L761.2,364.9 L761.7,368.0 L762.1,370.3 L761.3,373.0 L762.2,375.3 L761.4,378.8 L762.3,381.0 L761.3,383.4 L762.6,386.5 L762.0,389.2 L762.9,391.6 L761.9,393.9 L763.1,396.0 L762.2,399.3 L762.5,401.7 L761.9,398.6 L763.1,396.4 L762.2,393.8 L763.6,390.6 L762.8,388.6 L763.9,385.4 L763.1,383.0 L763.9,380.4 L763.3,377.4 L764.3,375.9 L763.3,373.1 L764.0,370.0 L763.9,372.8 L764.8,375.7 L764.0,378.2 L765.4,381.2 L764.6,383.3 L765.3,386.1 L764.9,389.0 L765.9,390.7 L764.9,393.6 L765.8,396.7 L766.3,399.3 L765.9,402.2 L766.9,403.9 L765.9,406.5 L767.1,409.0 L766.4,412.0 L767.5,414.8 L766.4,417.0 L767.7,419.4 L766.9,422.2 L768.0,424.5 L767.4,427.9 L768.0,430.0 L768.8,433.1 L768.2,435.7 L769.4,438.2 L768.7,440.7 L770.1,443.6 L770.0,446.7 L769.7,449.2 L770.6,452.1 L770.1,454.4 L770.9,457.0 L770.0,460.3 L771.4,462.2 L770.6,465.1 L771.0,468.0 L770.7,465.8 L772.0,463.3 L771.3,459.6 L772.1,457.5 L771.6,454.8 L772.3,452.8 L771.8,449.5 L772.6,447.6 L772.2,444.4 L773.0,441.6 L772.1,439.5 L773.0,436.7 L773.8,433.9 L772.6,431.9 L774.1,428.5 L773.4,426.2 L774.3,424.0 L773.3,421.2 L774.5,418.8 L773.8,415.0 L774.8,413.5 L774.0,410.5 L775.4,407.1 L775.0,405.0 L778.0,405.8 L778.9,408.2 L777.8,411.3 L779.1,413.9 L778.2,417.0 L779.5,419.6 L779.0,421.8 L779.9,424.0 L779.3,426.7 L780.0,430.0 L779.9,427.6 L781.7,424.3 L781.4,422.3 L782.8,419.0 L783.0,416.7 L783.6,419.3 L783.0,421.6 L783.9,424.5 L783.1,427.3 L784.0,429.5 L783.5,432.2 L784.4,433.8 L784.0,436.7 L783.7,439.9 L785.0,442.4 L784.4,444.6 L786.1,447.5 L785.8,450.0 L786.7,447.2 L786.2,444.8 L787.0,441.7 L786.5,444.9 L787.5,447.0 L786.7,449.3 L787.6,452.7 L786.9,455.1 L788.0,457.4 L787.0,459.6 L788.4,463.0 L787.4,465.9 L788.0,468.0 L788.9,470.8 L788.5,472.8 L789.6,475.2 L789.0,478.4 L790.7,480.5 L789.7,483.0 L790.8,485.0 L791.5,487.0 L790.6,490.1 L791.4,493.1 L790.8,494.8 L791.6,497.7 L791.0,500.7 L792.1,502.6 L791.3,504.7 L792.3,507.9 L791.3,510.3 L792.3,513.3 L791.7,515.0 L792.7,517.6 L791.8,520.3 L792.7,523.2 L792.1,525.5 L792.5,528.0 L792.0,525.1 L793.3,522.5 L792.2,519.5 L793.3,517.4 L792.5,514.6 L793.3,512.1 L792.5,509.0 L793.6,506.8 L793.1,503.5 L793.8,501.5 L792.9,499.0 L794.2,496.5 L793.1,493.0 L794.3,491.3 L794.0,488.0 L793.8,485.6 L795.5,483.0 L795.2,480.4 L796.3,478.4 L795.9,475.8 L797.7,472.8 L797.5,470.8 L798.0,473.0 L797.4,476.6 L798.4,479.1 L797.7,481.3 L798.8,483.8 L797.7,486.9 L799.0,488.8 L798.2,492.6 L799.1,494.4 L798.1,497.5 L799.0,500.0 L800.0,502.4 L799.4,505.0 L800.7,507.2 L800.8,510.0 L800.6,512.8 L801.3,514.7 L800.7,518.4 L801.9,520.6 L800.8,522.6 L802.0,525.0 L801.2,527.6 L802.1,530.3 L801.5,533.3 L802.4,535.4 L801.9,539.1 L803.0,541.6 L802.1,543.4 L803.2,545.7 L802.3,549.1 L803.5,552.0 L802.2,553.9 L803.0,556.7 L802.6,554.5 L804.1,552.1 L803.0,549.1 L804.5,546.1 L803.6,544.0 L804.9,540.4 L804.1,538.7 L805.4,535.7 L805.0,533.0 L805.2,530.9 L807.0,529.2 L807.5,526.7 L806.9,523.5 L808.3,521.4 L806.9,518.3 L808.0,516.1 L807.4,513.9 L808.4,511.3 L807.1,508.1 L808.2,505.8 L807.2,503.6 L808.6,501.2 L807.4,498.5 L808.6,495.6 L808.0,493.0 L807.5,490.9 L808.8,487.6 L808.0,485.7 L809.0,482.6 L807.7,480.8 L808.8,477.6 L808.0,475.6 L809.0,473.5 L808.4,470.9 L809.6,467.6 L808.3,465.5 L809.0,463.0 L808.5,465.6 L809.9,467.9 L809.1,470.7 L810.7,472.8 L809.5,475.5 L811.1,479.1 L810.3,481.4 L811.4,483.3 L810.5,486.5 L812.1,488.5 L811.7,491.7 L812.2,488.8 L811.4,485.8 L812.4,483.7 L811.9,481.6 L813.2,478.3 L812.1,475.8 L813.5,473.6 L812.8,470.7 L813.6,468.1 L812.8,465.7 L813.9,462.9 L813.0,460.4 L814.2,457.2 L814.0,455.0 L814.6,458.0 L814.1,460.5 L815.5,462.7 L814.7,465.3 L815.8,468.0 L815.1,470.2 L816.5,472.6 L815.8,475.1 L816.9,477.7 L816.7,480.0 L816.4,482.3 L817.8,484.8 L817.0,487.8 L818.5,490.8 L817.7,493.4 L819.2,494.9 L819.0,498.0 L819.6,494.9 L819.0,492.7 L820.1,490.8 L819.3,487.2 L820.3,485.3 L819.7,482.3 L820.8,479.8 L820.0,477.3 L821.0,474.7 L820.6,472.1 L821.6,469.8 L820.6,467.1 L822.1,464.3 L821.7,461.7 L822.2,464.6 L821.9,466.9 L823.0,469.3 L822.1,472.5 L823.0,475.0 L822.4,471.8 L823.8,469.7 L823.0,467.4 L824.2,465.2 L823.4,461.9 L824.6,459.6 L823.8,457.4 L824.7,453.8 L824.0,452.2 L825.3,449.6 L824.3,446.6 L825.0,444.0 L824.9,446.2 L825.9,449.4 L825.2,452.2 L826.6,454.1 L825.7,456.6 L827.2,459.5 L826.7,461.7 L826.5,464.7 L827.5,466.5 L826.5,469.1 L827.8,471.7 L826.8,474.7 L828.2,476.6 L827.2,479.5 L828.3,481.2 L827.4,484.0 L828.0,486.7 L827.7,483.6 L829.0,481.2 L828.6,478.8 L829.9,476.4 L829.0,473.8 L830.3,470.9 L829.6,467.8 L831.1,466.2 L830.8,463.0 L831.7,464.8 L830.6,467.6 L831.8,470.4 L831.4,472.4 L832.6,475.1 L831.8,477.6 L832.5,480.0 L832.2,477.7 L833.5,475.1 L832.5,472.1 L833.9,469.1 L833.3,466.8 L834.4,464.0 L834.0,461.7 L833.5,458.8 L834.9,456.5 L833.9,453.5 L835.2,451.5 L834.6,448.5 L835.5,446.7 L834.9,443.6 L835.6,441.0 L836.1,439.0 L835.5,436.1 L836.2,433.4 L835.6,431.3 L836.6,428.6 L836.0,425.3 L837.0,423.0 L836.2,420.3 L836.5,418.0 L838.0,417.0 L837.7,419.6 L838.6,421.9 L837.9,424.7 L838.8,427.2 L838.0,429.9 L839.3,432.3 L838.4,435.4 L839.2,437.2 L839.0,440.0 L838.7,442.4 L839.6,445.4 L839.0,447.6 L840.1,449.5 L839.3,452.1 L840.4,455.2 L840.0,457.5 L840.8,455.4 L840.0,452.1 L840.9,449.4 L839.8,446.9 L841.3,443.8 L840.3,441.8 L841.5,439.0 L840.3,436.6 L841.6,433.9 L841.2,431.0 L842.0,433.0 L841.0,436.5 L842.6,438.1 L841.5,440.5 L842.8,443.2 L842.5,446.0 L843.2,443.2 L842.3,440.6 L843.6,438.2 L842.8,434.9 L843.7,432.5 L843.5,430.0 L843.4,427.7 L844.9,426.2 L844.3,422.9 L845.0,421.0 L844.6,423.0 L845.8,425.5 L844.9,428.8 L846.0,431.8 L845.3,433.2 L846.1,436.0 L845.4,439.2 L846.6,441.9 L846.3,444.0 L846.3,446.2 L847.4,449.0 L846.6,451.3 L847.5,454.0 L847.0,451.6 L848.5,449.1 L847.8,446.5 L849.1,443.5 L848.1,441.2 L848.8,439.0 L848.6,442.0 L849.8,443.7 L848.9,447.3 L850.0,448.8 L850.0,452.0 L849.7,455.2 L851.1,457.4 L850.4,460.3 L851.8,462.9 L850.7,465.6 L852.3,468.5 L851.9,471.0 L852.5,468.1 L851.7,466.2 L852.8,462.4 L851.8,460.1 L853.0,457.3 L851.9,454.8 L853.3,451.8 L852.1,449.4 L853.4,446.6 L853.0,444.0 L854.0,446.4 L853.0,448.7 L854.2,450.9 L853.6,453.4 L854.3,456.0 L854.2,453.3 L854.9,451.1 L854.5,448.8 L855.3,445.5 L854.6,442.9 L855.8,440.4 L855.4,438.0 L855.5,434.5 L856.9,432.5 L856.8,435.5 L857.8,437.2 L856.8,439.9 L858.0,442.2 L857.2,445.2 L858.5,447.2 L858.0,450.0 L859.4,452.5 L860.1,450.1 L859.1,447.4 L860.0,445.0 L859.6,448.1 L860.9,449.8 L860.0,452.7 L861.5,455.3 L860.6,457.6 L862.0,459.7 L861.2,462.0 L861.9,465.0 L861.5,462.8 L862.9,460.6 L861.9,457.0 L863.2,455.5 L863.0,452.5 L863.6,455.3 L863.0,456.9 L864.3,459.9 L864.3,462.0 L864.2,464.2 L865.7,466.9 L865.6,470.0 L866.6,467.4 L866.1,464.4 L866.9,462.4 L866.3,459.3 L867.5,457.0 L867.3,453.8 L868.0,451.0 L868.9,448.6 L868.2,445.7 L869.4,443.1 L868.6,441.5 L869.7,438.1 L869.5,436.0 L869.3,433.1 L870.9,430.7 L870.0,428.5 L871.0,425.6 L871.0,428.1 L872.0,429.9 L871.2,432.7 L872.7,434.7 L871.7,438.3 L873.3,439.6 L873.0,442.5 L872.5,445.0 L873.6,447.1 L872.9,450.4 L873.9,452.8 L872.8,454.9 L874.0,457.2 L873.0,459.9 L874.3,462.2 L873.8,465.0 L875.6,462.5 L875.3,464.5 L876.1,467.1 L875.8,469.9 L876.5,472.9 L876.0,475.6 L876.7,477.9 L876.1,479.7 L877.2,482.3 L876.5,484.6 L876.9,487.5 L877.6,490.2 L876.4,492.2 L877.9,494.8 L877.0,497.3 L878.0,500.5 L877.4,502.4 L878.6,504.9 L878.0,507.5 L878.9,504.9 L878.2,502.4 L879.4,499.4 L878.4,496.2 L880.1,494.4 L879.1,491.3 L880.0,488.8 L880.0,490.5 L881.8,493.2 L881.9,495.0 L881.5,497.8 L882.6,500.0 L881.5,502.5 L882.5,505.0 L881.7,507.1 L882.8,510.4 L882.2,512.9 L882.5,515.0 L883.4,517.3 L882.9,520.3 L884.3,522.2 L883.9,525.8 L885.6,528.0 L884.7,530.8 L885.8,533.0 L886.9,535.0 L886.2,538.5 L887.1,540.5 L886.8,543.6 L888.2,545.1 L888.0,548.0 L888.7,545.4 L888.3,542.7 L889.7,539.8 L889.2,538.0 L890.4,534.8 L890.1,533.0 L890.8,530.0 L891.6,527.3 L890.6,524.5 L891.8,522.6 L890.5,519.8 L891.9,516.3 L890.7,513.6 L892.2,511.3 L891.4,508.9 L892.1,506.6 L891.6,503.6 L892.0,500.8 L891.9,503.0 L893.0,505.8 L892.4,509.2 L894.0,510.9 L893.3,513.9 L894.0,516.7 L894.7,518.8 L894.1,521.2 L895.5,523.7 L895.0,526.5 L896.2,529.7 L895.4,531.7 L897.1,533.8 L896.7,536.7 L897.5,534.2 L897.0,531.5 L898.6,529.0 L898.2,526.5 L899.7,523.8 L899.0,521.1 L900.0,518.0 L899.7,521.1 L900.8,523.5 L900.1,525.5 L901.2,528.0 L900.2,531.0 L901.3,533.2 L900.7,535.4 L901.6,538.5 L900.8,540.8 L901.7,543.0 L902.4,545.0 L901.6,547.8 L902.5,550.3 L901.9,552.9 L902.8,555.0 L902.0,558.1 L903.2,560.4 L903.0,563.0 L902.8,565.8 L903.8,568.8 L903.0,571.5 L904.7,574.3 L903.7,576.8 L905.1,579.3 L904.5,582.2 L905.0,585.0 L904.9,582.3 L906.4,579.9 L906.7,576.7 L907.1,579.4 L906.7,581.8 L907.5,584.8 L906.8,587.8 L908.0,589.5 L907.4,592.2 L908.1,594.9 L908.0,598.0 L907.8,600.1 L909.0,602.8 L908.0,605.9 L909.0,608.0 L908.6,610.5 L909.0,613.0 L908.6,610.3 L910.0,607.8 L909.4,604.8 L910.8,602.4 L909.8,599.9 L910.8,596.7 L910.3,599.7 L911.9,602.2 L911.2,604.1 L912.4,606.9 L911.8,610.0 L912.6,611.9 L911.8,614.5 L913.4,617.1 L913.0,620.0 L913.8,617.2 L912.7,614.9 L914.0,611.7 L913.0,608.9 L914.0,607.0 L913.5,603.9 L914.2,601.4 L913.7,598.5 L914.9,596.0 L913.8,592.7 L914.8,590.2 L914.1,587.6 L915.1,584.9 L914.3,582.8 L915.0,580.0 L915.7,577.4 L915.3,575.1 L916.6,572.3 L916.1,570.4 L917.2,568.1 L916.8,564.9 L917.5,563.0 L917.9,561.0 L917.3,557.5 L918.4,555.8 L917.8,553.5 L918.6,550.8 L918.0,547.8 L918.7,545.8 L918.2,548.5 L919.4,551.3 L919.1,553.8 L920.2,556.3 L919.5,558.2 L920.6,561.7 L919.8,564.5 L921.0,566.0 L919.9,568.6 L920.8,571.7 L920.6,568.6 L921.5,566.2 L921.1,564.0 L921.9,561.0 L921.7,558.0 L922.4,560.9 L921.7,562.9 L923.1,565.3 L922.3,567.4 L923.6,570.3 L922.8,573.3 L924.0,575.4 L923.4,577.4 L924.0,580.0 L924.7,582.4 L923.5,586.0 L924.9,588.4 L924.1,591.2 L925.3,593.5 L924.2,596.5 L925.2,598.4 L925.0,601.7 L927.5,601.7 L927.2,604.4 L928.1,607.5 L927.2,609.4 L928.1,612.1 L927.3,615.2 L928.3,617.4 L927.5,620.5 L928.3,622.8 L927.3,626.0 L928.6,629.2 L927.4,630.8 L928.5,633.7 L928.0,636.7 L928.0,639.0 L929.3,642.3 L928.7,644.6 L930.2,647.6 L929.2,650.1 L930.9,653.2 L930.5,655.8 L931.1,652.8 L930.3,650.0 L931.2,648.3 L930.8,645.0 L931.6,643.3 L931.0,640.0 L931.9,637.0 L931.0,634.4 L932.1,632.1 L931.1,629.6 L932.3,626.9 L931.7,624.1 L932.6,622.2 L932.0,619.0 L932.5,616.7 L935.0,616.7 L935.5,614.3 L935.1,610.9 L936.4,609.1 L935.5,605.2 L936.9,603.4 L936.2,600.0 L936.7,597.5 L936.2,600.2 L937.3,603.4 L936.7,605.1 L937.8,608.7 L936.7,610.2 L937.6,613.1 L937.0,616.7 L937.9,618.9 L937.2,620.9 L938.6,623.8 L938.0,626.7 L938.7,624.4 L938.1,621.5 L939.1,618.9 L938.8,616.4 L940.0,613.6 L939.1,611.2 L940.6,608.3 L939.8,604.7 L941.3,602.2 L940.8,600.0 L941.2,602.6 L940.5,605.1 L941.7,607.0 L941.3,610.0 L942.2,612.4 L941.3,615.9 L942.9,617.4 L941.8,620.0 L943.1,622.9 L942.4,625.8 L943.0,628.0 L943.0,625.8 L944.3,623.2 L943.7,620.0 L945.0,618.6 L944.3,615.7 L945.0,613.0 L944.6,615.9 L945.8,617.5 L945.5,620.5 L946.4,622.9 L945.9,625.3 L946.8,627.5 L946.7,630.0 L947.4,628.1 L946.7,625.3 L947.4,622.1 L946.8,619.5 L948.2,618.0 L947.3,615.2 L948.4,613.1 L948.0,610.0 L947.7,607.3 L949.1,604.8 L948.0,602.3 L949.3,600.4 L948.5,597.1 L949.9,595.6 L949.1,592.5 L950.3,590.3 L950.0,587.5 L950.7,589.9 L950.2,592.8 L951.1,595.5 L950.8,598.0 L951.6,600.7 L950.8,602.7 L952.0,605.0 L951.7,608.5 L952.9,609.8 L952.5,613.0 L952.3,615.6 L953.1,618.1 L952.0,620.9 L953.0,623.6 L952.3,625.5 L953.2,627.7 L952.6,630.2 L953.0,633.0 L953.8,635.2 L953.1,637.6 L954.0,641.0 L953.5,643.0 L954.5,646.1 L954.3,648.4 L955.0,650.2 L955.0,653.0 L955.6,650.4 L954.6,647.9 L956.0,644.7 L955.1,642.3 L956.1,640.0 L955.4,637.0 L956.1,634.3 L955.4,632.8 L956.6,629.3 L955.7,627.0 L956.7,624.9 L956.1,621.6 L956.8,619.0 L956.7,616.7 L957.6,619.1 L956.4,621.7 L957.6,624.0 L956.9,626.5 L958.0,628.6 L957.2,631.3 L958.3,634.2 L958.0,636.7 L959.0,634.6 L957.8,631.3 L959.1,629.2 L958.7,625.9 L959.5,623.8 L958.9,621.2 L960.1,618.6 L959.4,615.5 L960.7,613.2 L960.1,610.6 L960.8,607.5 L963.0,608.0 L962.7,610.6 L964.3,613.2 L963.5,616.5 L965.0,618.5 L964.6,621.6 L966.0,624.1 L965.8,626.7 L966.6,624.3 L966.1,621.4 L967.2,619.2 L966.3,615.9 L967.9,614.3 L966.9,611.4 L968.1,608.1 L968.0,605.8 L968.8,608.4 L968.2,611.0 L970.1,613.9 L969.6,615.7 L971.0,618.7 L970.2,622.0 L971.6,623.4 L971.7,626.7 L972.8,624.8 L972.0,621.8 L973.1,619.8 L972.7,617.2 L974.2,614.1 L974.0,611.7 L975.1,609.1 L976.7,606.7 L977.8,604.1 L977.1,600.8 L978.4,598.2 L978.2,595.6 L979.0,593.0 L979.8,595.0 L981.7,596.7 L981.7,594.3 L983.1,591.1 L982.3,588.5 L983.3,585.6 L982.8,583.0 L984.0,581.1 L984.0,578.0 L985.1,580.9 L984.6,584.2 L985.8,586.7 L985.3,584.7 L986.4,582.0 L986.1,578.7 L986.8,576.3 L986.3,573.9 L987.5,572.1 L986.5,569.2 L987.8,566.9 L987.1,564.1 L987.5,561.7 L988.0,559.0 L987.1,555.9 L988.5,553.7 L987.7,550.6 L988.9,548.2 L987.9,544.8 L989.5,542.8 L989.0,540.0 L990.1,542.3 L989.2,544.7 L990.5,547.8 L990.1,550.4 L991.7,552.8 L990.7,555.6 L991.7,558.0 L991.7,556.0 L992.8,552.5 L992.2,550.3 L993.0,548.0 L992.8,550.5 L993.6,553.7 L993.0,555.6 L994.2,558.5 L993.5,561.4 L994.6,564.1 L993.6,566.5 L994.8,569.1 L993.9,571.9 L995.1,573.8 L995.0,576.7 L994.9,579.5 L996.0,582.0 L994.9,584.5 L996.3,587.0 L995.2,589.2 L996.5,592.3 L995.9,594.9 L997.1,596.8 L995.9,600.2 L996.7,602.5 L996.1,600.4 L997.5,597.5 L996.6,594.7 L997.8,592.0 L996.7,589.6 L997.9,587.1 L997.0,584.8 L998.4,582.1 L997.5,578.7 L998.0,576.7 L998.9,573.4 L998.9,570.3 L1000.0,568.0 L1000.0,571.1 L1001.4,573.8 L1001.1,576.3 L1002.4,578.5 L1002.5,581.7 L1005.0,581.7 L1005.9,578.8 L1005.5,576.4 L1006.8,574.9 L1006.3,571.3 L1007.8,569.4 L1007.5,566.7 L1007.4,564.4 L1009.1,561.0 L1008.3,558.8 L1009.7,556.3 L1010.0,553.0 L1011.0,555.1 L1010.4,557.8 L1011.9,560.3 L1011.7,563.0 L1012.5,560.7 L1012.5,556.9 L1014.0,554.2 L1014.0,551.7 L1015.8,553.9 L1016.7,556.7 L1017.1,554.6 L1016.3,550.9 L1017.8,549.1 L1016.5,546.6 L1017.6,543.4 L1017.1,541.4 L1018.2,538.6 L1017.1,536.4 L1018.3,533.2 L1017.5,531.2 L1018.0,528.0 L1018.8,525.2 L1018.3,522.3 L1019.8,520.6 L1020.0,518.0 L1020.5,520.3 L1020.2,523.2 L1020.9,525.2 L1020.8,528.0 L1021.4,525.8 L1021.1,523.0 L1022.0,520.6 L1021.7,518.4 L1022.7,515.3 L1022.0,512.4 L1023.5,510.5 L1023.0,507.6 L1024.2,505.0 L1024.0,503.0 L1023.9,500.2 L1024.8,497.7 L1023.9,495.4 L1025.2,493.1 L1024.2,491.0 L1025.0,488.0 L1024.6,490.9 L1025.8,492.8 L1024.8,496.1 L1025.8,498.9 L1025.2,501.9 L1026.3,503.9 L1025.3,507.2 L1026.8,509.2 L1025.8,512.3 L1027.1,514.6 L1026.0,517.4 L1026.7,520.0 L1027.4,516.9 L1029.0,515.0 L1029.5,512.2 L1028.6,509.4 L1029.8,507.2 L1029.0,505.2 L1030.2,502.1 L1030.0,500.0 L1029.6,497.7 L1031.0,495.3 L1030.1,491.9 L1031.5,490.5 L1030.7,487.3 L1032.0,485.6 L1030.8,482.9 L1032.0,480.5 L1031.2,477.1 L1032.8,475.4 L1031.6,472.9 L1032.5,470.0 L1033.0,467.1 L1032.3,464.4 L1033.6,462.7 L1032.8,459.5 L1034.1,457.4 L1033.1,454.7 L1034.5,451.7 L1034.0,449.5 L1035.1,446.6 L1034.2,444.3 L1035.0,441.7 L1035.1,444.6 L1036.6,446.6 L1036.7,450.0 L1037.4,447.5 L1036.3,445.0 L1037.8,441.4 L1036.7,438.9 L1038.2,436.8 L1037.4,432.9 L1038.1,431.0 L1038.0,428.0 L1038.5,425.3 L1040.2,422.9 L1040.8,420.0 L1040.7,417.2 L1041.8,414.9 L1041.0,412.9 L1042.2,410.9 L1041.0,408.1 L1042.1,405.0 L1042.0,403.0 L1042.6,405.7 L1041.5,407.7 L1042.8,410.4 L1041.7,413.1 L1042.8,416.5 L1041.7,419.2 L1043.1,421.2 L1042.0,424.2 L1043.1,426.9 L1042.3,429.3 L1043.4,432.2 L1042.1,435.2 L1043.6,436.9 L1043.0,440.0 L1043.7,437.5 L1042.9,435.4 L1044.1,431.9 L1044.0,430.0 L1045.0,433.0 L1044.2,435.2 L1045.3,437.3 L1044.6,440.3 L1046.1,442.3 L1045.2,445.0 L1046.7,447.4 L1045.6,450.6 L1046.8,452.8 L1046.6,455.0 L1047.7,456.9 L1046.9,460.3 L1048.1,462.5 L1048.0,465.0 L1048.7,462.1 L1048.2,460.3 L1049.3,457.4 L1048.4,455.0 L1049.9,452.1 L1049.0,449.3 L1050.0,447.5 L1049.8,444.2 L1051.0,441.7 L1049.8,438.6 L1050.8,436.7 L1051.2,434.0 L1050.4,431.8 L1051.7,429.3 L1050.8,426.8 L1051.5,423.6 L1050.9,420.5 L1051.7,419.0 L1050.7,415.6 L1052.3,413.5 L1051.4,410.7 L1051.7,408.0 L1052.4,405.2 L1051.8,402.4 L1053.1,399.6 L1052.7,397.3 L1053.7,394.5 L1053.3,391.8 L1054.8,389.5 L1054.0,386.6 L1055.4,384.2 L1054.9,381.7 L1056.2,379.9 L1055.8,376.7 L1055.8,374.1 L1056.9,371.9 L1056.4,368.3 L1058.1,365.7 L1057.4,363.0 L1058.8,360.5 L1058.2,357.6 L1059.4,354.9 L1058.9,352.5 L1060.0,350.0 L1060.9,347.8 L1060.4,344.6 L1061.6,342.9 L1060.9,339.9 L1062.4,337.3 L1061.5,335.1 L1063.3,332.4 L1063.0,330.0 L1062.9,327.7 L1064.3,325.5 L1063.9,322.9 L1065.0,320.3 L1064.8,317.6 L1066.1,314.9 L1065.6,312.9 L1066.9,310.8 L1066.7,308.0 L1066.1,305.6 L1067.2,302.3 L1066.2,299.7 L1066.9,297.4 L1066.0,294.6 L1067.3,292.2 L1066.5,289.4 L1066.7,286.7 L1066.3,289.6 L1067.7,292.4 L1067.1,295.1 L1068.7,297.2 L1067.9,299.9 L1069.1,302.8 L1069.0,305.0 L1069.4,303.1 L1068.9,299.9 L1070.0,297.3 L1069.1,294.4 L1070.4,292.1 L1069.2,290.4 L1070.7,287.8 L1069.9,285.1 L1070.6,282.8 L1069.9,279.6 L1071.1,277.0 L1070.8,275.0 L1070.7,272.4 L1071.9,269.7 L1071.4,266.3 L1072.5,264.0 L1071.9,266.3 L1073.0,268.5 L1072.3,271.2 L1073.7,274.0 L1072.9,277.0 L1073.7,278.6 L1073.2,281.4 L1074.1,284.1 L1073.2,286.2 L1074.1,289.6 L1074.0,291.7 L1073.6,294.6 L1074.9,297.1 L1073.6,299.3 L1074.7,302.3 L1073.7,305.5 L1074.8,307.8 L1074.2,310.1 L1075.0,313.5 L1074.3,315.5 L1075.1,318.6 L1074.6,321.3 L1075.3,323.2 L1074.8,326.0 L1075.9,328.6 L1074.8,331.8 L1075.7,334.4 L1074.7,337.2 L1075.7,339.7 L1074.9,342.4 L1076.2,344.2 L1075.1,347.5 L1075.8,350.0 L1075.5,347.7 L1076.5,344.8 L1075.7,342.8 L1077.2,340.3 L1076.3,337.2 L1077.3,334.7 L1076.7,332.0 L1077.9,329.6 L1076.6,327.5 L1078.0,325.1 L1076.9,321.4 L1078.4,320.1 L1077.6,316.8 L1078.5,314.9 L1077.8,311.9 L1079.0,309.8 L1078.2,306.8 L1079.3,304.1 L1079.0,301.7 L1079.9,304.4 L1078.8,306.3 L1079.9,308.7 L1079.0,311.5 L1080.1,314.0 L1079.4,316.8 L1080.2,319.0 L1079.4,321.4 L1080.8,324.3 L1079.9,327.3 L1080.8,329.3 L1080.3,331.6 L1081.4,334.4 L1080.8,337.0 L1080.5,339.8 L1081.5,342.0 L1080.7,345.3 L1082.0,348.2 L1081.4,350.5 L1082.6,353.6 L1081.8,356.5 L1082.7,358.3 L1082.1,361.4 L1083.3,363.9 L1083.0,366.7 L1084.6,364.1 L1085.0,361.7 L1085.5,364.5 L1084.4,366.5 L1085.6,369.3 L1084.9,372.0 L1086.0,374.2 L1084.7,377.6 L1085.9,379.4 L1085.2,382.3 L1086.2,384.6 L1085.3,387.7 L1086.0,389.9 L1085.1,392.5 L1085.8,395.0 L1086.3,397.5 L1085.7,400.0 L1086.9,402.5 L1085.7,404.2 L1086.5,407.0 L1086.3,404.6 L1087.4,402.4 L1086.6,398.8 L1087.5,396.3 L1086.9,394.1 L1087.9,392.3 L1087.6,389.0 L1088.0,386.7 L1087.6,389.6 L1088.8,392.5 L1088.3,395.1 L1089.4,397.5 L1088.5,399.6 L1090.0,402.7 L1089.0,405.5 L1090.0,408.0" fill="none" stroke="#777777" stroke-width="2.2" stroke-linejoin="round" stroke-linecap="round"/>
<line x1="79.6" y1="133" x2="79.6" y2="166" stroke="#222" stroke-width="1.6"/>
<g stroke="#050505" stroke-width="4.9">
<line x1="215" y1="298.6" x2="465" y2="298.6"/>
<line x1="561.7" y1="287.8" x2="758" y2="287.8"/>
<line x1="970" y1="411.3" x2="1093" y2="411.3"/>
</g>
<line x1="133.6" y1="45.8" x2="159.1" y2="45.8" stroke="#808080" stroke-width="3.4"/>
<line x1="133.6" y1="95.5" x2="159.1" y2="95.5" stroke="#808080" stroke-width="3.4"/>
<line x1="653" y1="45.4" x2="675.6" y2="45.4" stroke="#111" stroke-width="4"/>
<text class="lg" x="168" y="51.1">Average rate at which RBA bought A$</text>
<text class="lg" x="168" y="104.9">Exchange rate of A$ against US$</text>
<text class="lg" x="687.5" y="51.6">Average rate at which RBA sold A$</text>
<text class="ax" transform="translate(8.7,31.9) scale(1.0,1.085)">US$</text>
<text class="ax" transform="translate(1132.9,32.0) scale(1.0,1.085)">US$</text>
<text class="ax" transform="translate(3.6,147.0) scale(1.053,1.054)">0.90</text>
<text class="ax" transform="translate(1131.9,147.0) scale(1.03,1.054)">0.90</text>
<text class="ax" transform="translate(3.6,271.4) scale(1.053,1.054)">0.80</text>
<text class="ax" transform="translate(1131.9,271.4) scale(1.03,1.054)">0.80</text>
<text class="ax" transform="translate(3.6,396.0) scale(1.053,1.054)">0.70</text>
<text class="ax" transform="translate(1131.9,396.0) scale(1.03,1.054)">0.70</text>
<text class="ax" transform="translate(3.6,521.3) scale(1.053,1.054)">0.60</text>
<text class="ax" transform="translate(1131.9,521.3) scale(1.03,1.054)">0.60</text>
<text class="ax" transform="translate(3.6,646.8) scale(1.053,1.054)">0.50</text>
<text class="ax" transform="translate(1131.9,646.8) scale(1.03,1.054)">0.50</text>
<text class="ax" transform="translate(3.6,771.7) scale(1.053,1.054)">0.40</text>
<text class="ax" transform="translate(1131.9,771.7) scale(1.03,1.054)">0.40</text>
<text class="ax" transform="translate(110.3,801.2) scale(1.012,1.07)" text-anchor="middle">1984</text>
<text class="ax" transform="translate(307.1,801.2) scale(1.012,1.07)" text-anchor="middle">1988</text>
<text class="ax" transform="translate(503.9,801.2) scale(1.012,1.07)" text-anchor="middle">1992</text>
<text class="ax" transform="translate(700.7,801.2) scale(1.012,1.07)" text-anchor="middle">1996</text>
<text class="ax" transform="translate(898.8,801.2) scale(1.012,1.07)" text-anchor="middle">2000</text>
<text class="ax" transform="translate(1095.5,801.2) scale(1.012,1.07)" text-anchor="middle">2004</text>
</svg></body></html>
